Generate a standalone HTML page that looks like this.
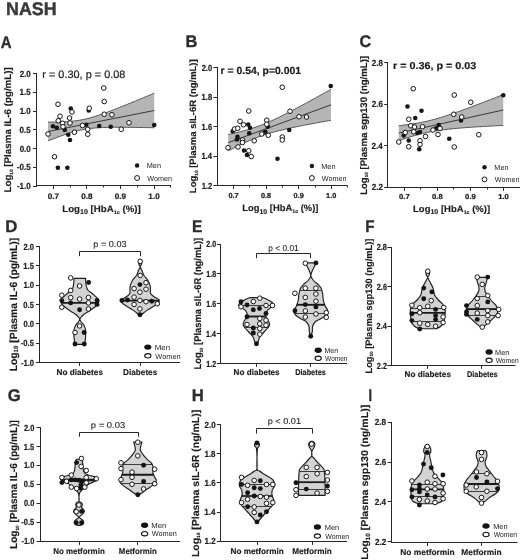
<!DOCTYPE html>
<html><head><meta charset="utf-8"><title>NASH</title>
<style>html,body{margin:0;padding:0;background:#fff;}svg{display:block;}text{font-family:"Liberation Sans",Arial,sans-serif;text-rendering:geometricPrecision;}</style>
</head><body>
<svg width="520" height="560" viewBox="0 0 520 560" font-family="Liberation Sans, Arial, sans-serif">
<rect width="520" height="560" fill="#fff"/>
<g>
<text transform="translate(6.07,15.30) scale(0.980,1)" font-size="18.2" font-weight="bold" fill="#3a3a3a" stroke="#3a3a3a" stroke-width="0.45" stroke-linejoin="round">NASH</text>
<text transform="translate(0.80,47.70) scale(0.893,1)" font-size="16.8" font-weight="bold" fill="#2c2c2c" stroke="#2c2c2c" stroke-width="0.35" stroke-linejoin="round">A</text>
<text transform="translate(185.60,47.40) scale(0.981,1)" font-size="16.8" font-weight="bold" fill="#2c2c2c" stroke="#2c2c2c" stroke-width="0.35" stroke-linejoin="round">B</text>
<text transform="translate(359.43,47.40) scale(0.959,1)" font-size="16.8" font-weight="bold" fill="#2c2c2c" stroke="#2c2c2c" stroke-width="0.35" stroke-linejoin="round">C</text>
<text transform="translate(5.28,231.70)" font-size="16.8" font-weight="bold" fill="#2c2c2c" stroke="#2c2c2c" stroke-width="0.35" stroke-linejoin="round">D</text>
<text transform="translate(191.97,231.70) scale(0.922,1)" font-size="16.8" font-weight="bold" fill="#2c2c2c" stroke="#2c2c2c" stroke-width="0.35" stroke-linejoin="round">E</text>
<text transform="translate(365.19,231.70) scale(0.905,1)" font-size="16.8" font-weight="bold" fill="#2c2c2c" stroke="#2c2c2c" stroke-width="0.35" stroke-linejoin="round">F</text>
<text transform="translate(7.71,401.10) scale(0.992,1)" font-size="16.8" font-weight="bold" fill="#2c2c2c" stroke="#2c2c2c" stroke-width="0.35" stroke-linejoin="round">G</text>
<text transform="translate(191.79,401.10) scale(0.994,1)" font-size="16.8" font-weight="bold" fill="#2c2c2c" stroke="#2c2c2c" stroke-width="0.35" stroke-linejoin="round">H</text>
<text transform="translate(368.45,401.10) scale(0.759,1)" font-size="16.8" font-weight="bold" fill="#2c2c2c" stroke="#2c2c2c" stroke-width="0.35" stroke-linejoin="round">I</text>
<line x1="36.50" y1="73.00" x2="36.50" y2="187.00" stroke="#262626" stroke-width="1.0"/>
<line x1="33.00" y1="73.50" x2="36.50" y2="73.50" stroke="#262626" stroke-width="1.0"/>
<text transform="translate(19.63,76.70) scale(0.906,1)" font-size="8.8" font-weight="bold" fill="#1c1c1c" stroke="#1c1c1c" stroke-width="0.22" stroke-linejoin="round">2.0</text>
<line x1="33.00" y1="92.50" x2="36.50" y2="92.50" stroke="#262626" stroke-width="1.0"/>
<text transform="translate(19.51,95.45) scale(0.905,1)" font-size="8.8" font-weight="bold" fill="#1c1c1c" stroke="#1c1c1c" stroke-width="0.22" stroke-linejoin="round">1.5</text>
<line x1="33.00" y1="111.50" x2="36.50" y2="111.50" stroke="#262626" stroke-width="1.0"/>
<text transform="translate(19.64,114.20) scale(0.905,1)" font-size="8.8" font-weight="bold" fill="#1c1c1c" stroke="#1c1c1c" stroke-width="0.22" stroke-linejoin="round">1.0</text>
<line x1="33.00" y1="129.50" x2="36.50" y2="129.50" stroke="#262626" stroke-width="1.0"/>
<text transform="translate(19.51,132.95) scale(0.906,1)" font-size="8.8" font-weight="bold" fill="#1c1c1c" stroke="#1c1c1c" stroke-width="0.22" stroke-linejoin="round">0.5</text>
<line x1="33.00" y1="148.50" x2="36.50" y2="148.50" stroke="#262626" stroke-width="1.0"/>
<text transform="translate(19.63,151.70) scale(0.906,1)" font-size="8.8" font-weight="bold" fill="#1c1c1c" stroke="#1c1c1c" stroke-width="0.22" stroke-linejoin="round">0.0</text>
<line x1="33.00" y1="167.50" x2="36.50" y2="167.50" stroke="#262626" stroke-width="1.0"/>
<text transform="translate(16.82,170.45) scale(0.910,1)" font-size="8.8" font-weight="bold" fill="#1c1c1c" stroke="#1c1c1c" stroke-width="0.22" stroke-linejoin="round">-0.5</text>
<line x1="33.00" y1="186.50" x2="36.50" y2="186.50" stroke="#262626" stroke-width="1.0"/>
<text transform="translate(16.95,189.20) scale(0.909,1)" font-size="8.8" font-weight="bold" fill="#1c1c1c" stroke="#1c1c1c" stroke-width="0.22" stroke-linejoin="round">-1.0</text>
<line x1="36.00" y1="185.50" x2="171.00" y2="185.50" stroke="#262626" stroke-width="1.0"/>
<line x1="53.50" y1="185.50" x2="53.50" y2="188.90" stroke="#262626" stroke-width="1.0"/>
<line x1="86.50" y1="185.50" x2="86.50" y2="188.90" stroke="#262626" stroke-width="1.0"/>
<line x1="120.50" y1="185.50" x2="120.50" y2="188.90" stroke="#262626" stroke-width="1.0"/>
<line x1="154.50" y1="185.50" x2="154.50" y2="188.90" stroke="#262626" stroke-width="1.0"/>
<line x1="70.50" y1="185.50" x2="70.50" y2="187.50" stroke="#262626" stroke-width="1.0"/>
<line x1="103.50" y1="185.50" x2="103.50" y2="187.50" stroke="#262626" stroke-width="1.0"/>
<line x1="137.50" y1="185.50" x2="137.50" y2="187.50" stroke="#262626" stroke-width="1.0"/>
<line x1="170.50" y1="185.50" x2="170.50" y2="187.50" stroke="#262626" stroke-width="1.0"/>
<text transform="translate(47.69,198.60) scale(1.013,1)" font-size="8.0" font-weight="bold" fill="#1c1c1c" stroke="#1c1c1c" stroke-width="0.22" stroke-linejoin="round">0.7</text>
<text transform="translate(81.22,198.60) scale(1.014,1)" font-size="8.0" font-weight="bold" fill="#1c1c1c" stroke="#1c1c1c" stroke-width="0.22" stroke-linejoin="round">0.8</text>
<text transform="translate(114.84,198.60) scale(1.014,1)" font-size="8.0" font-weight="bold" fill="#1c1c1c" stroke="#1c1c1c" stroke-width="0.22" stroke-linejoin="round">0.9</text>
<text transform="translate(148.37,198.60) scale(1.013,1)" font-size="8.0" font-weight="bold" fill="#1c1c1c" stroke="#1c1c1c" stroke-width="0.22" stroke-linejoin="round">1.0</text>
<text transform="translate(42.29,78.30) scale(1.010,1)" font-size="10.8" font-weight="normal" fill="#222" stroke="#222" stroke-width="0.20" stroke-linejoin="round">r = 0.30, p = 0.08</text>
<text transform="translate(11.30,192.56) rotate(-90) scale(1.020,1)" fill="#1c1c1c" stroke="#1c1c1c" stroke-width="0.15" stroke-linejoin="round"><tspan x="0.00" y="0.00" font-size="9.6" font-weight="bold">Log</tspan><tspan x="17.59" y="1.40" font-size="4.6" font-weight="bold">10</tspan><tspan x="22.71" y="0.00" font-size="9.6" font-weight="bold"> [Plasma IL-6 (pg/mL)]</tspan></text>
<text transform="translate(62.25,211.50) scale(1.029,1)" fill="#1c1c1c" stroke="#1c1c1c" stroke-width="0.15" stroke-linejoin="round"><tspan x="0.00" y="0.00" font-size="9.4" font-weight="bold">Log</tspan><tspan x="17.23" y="2.60" font-size="6.956" font-weight="bold">10</tspan><tspan x="24.96" y="0.00" font-size="9.4" font-weight="bold"> [HbA</tspan><tspan x="50.02" y="2.00" font-size="5.264000000000001" font-weight="bold">1c</tspan><tspan x="55.88" y="0.00" font-size="9.4" font-weight="bold"> (%)]</tspan></text>
<path d="M48.00,122.14 L50.66,122.12 L53.31,122.09 L55.97,122.05 L58.62,121.98 L61.28,121.89 L63.94,121.78 L66.59,121.63 L69.25,121.44 L71.91,121.21 L74.56,120.92 L77.22,120.57 L79.88,120.15 L82.53,119.65 L85.19,119.09 L87.84,118.45 L90.50,117.75 L93.16,116.98 L95.81,116.16 L98.47,115.29 L101.12,114.39 L103.78,113.45 L106.44,112.49 L109.09,111.50 L111.75,110.49 L114.41,109.47 L117.06,108.44 L119.72,107.39 L122.38,106.33 L125.03,105.27 L127.69,104.20 L130.34,103.12 L133.00,102.04 L135.66,100.95 L138.31,99.86 L140.97,98.76 L143.62,97.66 L146.28,96.56 L148.94,95.46 L151.59,94.35 L154.25,93.24 L154.25,127.76 L151.59,127.70 L148.94,127.64 L146.28,127.59 L143.62,127.54 L140.97,127.49 L138.31,127.44 L135.66,127.40 L133.00,127.36 L130.34,127.33 L127.69,127.30 L125.03,127.28 L122.38,127.27 L119.72,127.26 L117.06,127.26 L114.41,127.28 L111.75,127.31 L109.09,127.35 L106.44,127.41 L103.78,127.50 L101.12,127.61 L98.47,127.76 L95.81,127.94 L93.16,128.17 L90.50,128.45 L87.84,128.80 L85.19,129.21 L82.53,129.70 L79.88,130.25 L77.22,130.88 L74.56,131.58 L71.91,132.34 L69.25,133.16 L66.59,134.02 L63.94,134.92 L61.28,135.86 L58.62,136.82 L55.97,137.80 L53.31,138.81 L50.66,139.83 L48.00,140.86 Z" fill="#b5b5b5" stroke="none"/>
<path d="M48.00,122.14 L50.66,122.12 L53.31,122.09 L55.97,122.05 L58.62,121.98 L61.28,121.89 L63.94,121.78 L66.59,121.63 L69.25,121.44 L71.91,121.21 L74.56,120.92 L77.22,120.57 L79.88,120.15 L82.53,119.65 L85.19,119.09 L87.84,118.45 L90.50,117.75 L93.16,116.98 L95.81,116.16 L98.47,115.29 L101.12,114.39 L103.78,113.45 L106.44,112.49 L109.09,111.50 L111.75,110.49 L114.41,109.47 L117.06,108.44 L119.72,107.39 L122.38,106.33 L125.03,105.27 L127.69,104.20 L130.34,103.12 L133.00,102.04 L135.66,100.95 L138.31,99.86 L140.97,98.76 L143.62,97.66 L146.28,96.56 L148.94,95.46 L151.59,94.35 L154.25,93.24" fill="none" stroke="#4a4a4a" stroke-width="0.9"/>
<path d="M48.00,140.86 L50.66,139.83 L53.31,138.81 L55.97,137.80 L58.62,136.82 L61.28,135.86 L63.94,134.92 L66.59,134.02 L69.25,133.16 L71.91,132.34 L74.56,131.58 L77.22,130.88 L79.88,130.25 L82.53,129.70 L85.19,129.21 L87.84,128.80 L90.50,128.45 L93.16,128.17 L95.81,127.94 L98.47,127.76 L101.12,127.61 L103.78,127.50 L106.44,127.41 L109.09,127.35 L111.75,127.31 L114.41,127.28 L117.06,127.26 L119.72,127.26 L122.38,127.27 L125.03,127.28 L127.69,127.30 L130.34,127.33 L133.00,127.36 L135.66,127.40 L138.31,127.44 L140.97,127.49 L143.62,127.54 L146.28,127.59 L148.94,127.64 L151.59,127.70 L154.25,127.76" fill="none" stroke="#4a4a4a" stroke-width="0.9"/>
<line x1="48.00" y1="131.50" x2="154.25" y2="110.50" stroke="#3a3a3a" stroke-width="1.0"/>
<circle cx="70.75" cy="108.50" r="2.3" fill="#141414"/>
<circle cx="88.75" cy="110.50" r="2.3" fill="#141414"/>
<circle cx="53.00" cy="126.25" r="2.3" fill="#141414"/>
<circle cx="56.75" cy="127.75" r="2.3" fill="#141414"/>
<circle cx="64.75" cy="130.00" r="2.3" fill="#141414"/>
<circle cx="86.25" cy="124.75" r="2.3" fill="#141414"/>
<circle cx="99.25" cy="126.00" r="2.3" fill="#141414"/>
<circle cx="110.75" cy="126.75" r="2.3" fill="#141414"/>
<circle cx="154.25" cy="125.00" r="2.3" fill="#141414"/>
<circle cx="68.25" cy="134.75" r="2.3" fill="#141414"/>
<circle cx="70.00" cy="140.00" r="2.3" fill="#141414"/>
<circle cx="57.90" cy="167.70" r="2.3" fill="#141414"/>
<circle cx="67.40" cy="167.70" r="2.3" fill="#141414"/>
<circle cx="103.75" cy="88.00" r="2.3" fill="#fff" stroke="#141414" stroke-width="1.0"/>
<circle cx="104.25" cy="101.50" r="2.3" fill="#fff" stroke="#141414" stroke-width="1.0"/>
<circle cx="58.00" cy="104.25" r="2.3" fill="#fff" stroke="#141414" stroke-width="1.0"/>
<circle cx="89.25" cy="108.25" r="2.3" fill="#fff" stroke="#141414" stroke-width="1.0"/>
<circle cx="72.00" cy="112.00" r="2.3" fill="#fff" stroke="#141414" stroke-width="1.0"/>
<circle cx="60.00" cy="116.25" r="2.3" fill="#fff" stroke="#141414" stroke-width="1.0"/>
<circle cx="69.50" cy="118.00" r="2.3" fill="#fff" stroke="#141414" stroke-width="1.0"/>
<circle cx="104.25" cy="114.25" r="2.3" fill="#fff" stroke="#141414" stroke-width="1.0"/>
<circle cx="112.00" cy="114.75" r="2.3" fill="#fff" stroke="#141414" stroke-width="1.0"/>
<circle cx="58.25" cy="120.75" r="2.3" fill="#fff" stroke="#141414" stroke-width="1.0"/>
<circle cx="62.50" cy="123.25" r="2.3" fill="#fff" stroke="#141414" stroke-width="1.0"/>
<circle cx="70.00" cy="123.00" r="2.3" fill="#fff" stroke="#141414" stroke-width="1.0"/>
<circle cx="63.00" cy="126.75" r="2.3" fill="#fff" stroke="#141414" stroke-width="1.0"/>
<circle cx="82.50" cy="125.50" r="2.3" fill="#fff" stroke="#141414" stroke-width="1.0"/>
<circle cx="48.00" cy="134.00" r="2.3" fill="#fff" stroke="#141414" stroke-width="1.0"/>
<circle cx="74.50" cy="132.25" r="2.3" fill="#fff" stroke="#141414" stroke-width="1.0"/>
<circle cx="87.75" cy="129.25" r="2.3" fill="#fff" stroke="#141414" stroke-width="1.0"/>
<circle cx="87.75" cy="134.25" r="2.3" fill="#fff" stroke="#141414" stroke-width="1.0"/>
<circle cx="121.25" cy="129.25" r="2.3" fill="#fff" stroke="#141414" stroke-width="1.0"/>
<circle cx="129.00" cy="122.75" r="2.3" fill="#fff" stroke="#141414" stroke-width="1.0"/>
<circle cx="54.50" cy="156.75" r="2.3" fill="#fff" stroke="#141414" stroke-width="1.0"/>
<circle cx="137.10" cy="165.50" r="2.2" fill="#141414"/>
<circle cx="137.10" cy="178.00" r="2.45" fill="#fff" stroke="#141414" stroke-width="1.0"/>
<text transform="translate(146.71,168.20) scale(0.991,1)" font-size="7.4" font-weight="normal" fill="#222">Men</text>
<text transform="translate(147.26,180.70) scale(0.975,1)" font-size="7.4" font-weight="normal" fill="#222">Women</text>
<line x1="217.50" y1="67.00" x2="217.50" y2="186.00" stroke="#262626" stroke-width="1.0"/>
<line x1="213.40" y1="67.50" x2="217.50" y2="67.50" stroke="#262626" stroke-width="1.0"/>
<text transform="translate(201.64,71.02) scale(0.862,1)" font-size="8.8" font-weight="bold" fill="#1c1c1c" stroke="#1c1c1c" stroke-width="0.22" stroke-linejoin="round">2.0</text>
<line x1="213.40" y1="97.50" x2="217.50" y2="97.50" stroke="#262626" stroke-width="1.0"/>
<text transform="translate(201.57,100.44) scale(0.862,1)" font-size="8.8" font-weight="bold" fill="#1c1c1c" stroke="#1c1c1c" stroke-width="0.22" stroke-linejoin="round">1.8</text>
<line x1="213.40" y1="126.50" x2="217.50" y2="126.50" stroke="#262626" stroke-width="1.0"/>
<text transform="translate(201.61,129.86) scale(0.862,1)" font-size="8.8" font-weight="bold" fill="#1c1c1c" stroke="#1c1c1c" stroke-width="0.22" stroke-linejoin="round">1.6</text>
<line x1="213.40" y1="156.50" x2="217.50" y2="156.50" stroke="#262626" stroke-width="1.0"/>
<text transform="translate(201.38,159.28) scale(0.862,1)" font-size="8.8" font-weight="bold" fill="#1c1c1c" stroke="#1c1c1c" stroke-width="0.22" stroke-linejoin="round">1.4</text>
<line x1="213.40" y1="185.50" x2="217.50" y2="185.50" stroke="#262626" stroke-width="1.0"/>
<text transform="translate(201.65,188.70) scale(0.862,1)" font-size="8.8" font-weight="bold" fill="#1c1c1c" stroke="#1c1c1c" stroke-width="0.22" stroke-linejoin="round">1.2</text>
<line x1="217.00" y1="185.50" x2="347.60" y2="185.50" stroke="#262626" stroke-width="1.0"/>
<line x1="233.50" y1="185.50" x2="233.50" y2="188.90" stroke="#262626" stroke-width="1.0"/>
<line x1="266.50" y1="185.50" x2="266.50" y2="188.90" stroke="#262626" stroke-width="1.0"/>
<line x1="298.50" y1="185.50" x2="298.50" y2="188.90" stroke="#262626" stroke-width="1.0"/>
<line x1="331.50" y1="185.50" x2="331.50" y2="188.90" stroke="#262626" stroke-width="1.0"/>
<line x1="249.50" y1="185.50" x2="249.50" y2="187.50" stroke="#262626" stroke-width="1.0"/>
<line x1="282.50" y1="185.50" x2="282.50" y2="187.50" stroke="#262626" stroke-width="1.0"/>
<line x1="315.50" y1="185.50" x2="315.50" y2="187.50" stroke="#262626" stroke-width="1.0"/>
<line x1="347.50" y1="185.50" x2="347.50" y2="187.50" stroke="#262626" stroke-width="1.0"/>
<text transform="translate(228.42,197.60) scale(1.020,1)" font-size="7.2" font-weight="bold" fill="#1c1c1c" stroke="#1c1c1c" stroke-width="0.22" stroke-linejoin="round">0.7</text>
<text transform="translate(260.96,197.60) scale(1.020,1)" font-size="7.2" font-weight="bold" fill="#1c1c1c" stroke="#1c1c1c" stroke-width="0.22" stroke-linejoin="round">0.8</text>
<text transform="translate(293.58,197.60) scale(1.020,1)" font-size="7.2" font-weight="bold" fill="#1c1c1c" stroke="#1c1c1c" stroke-width="0.22" stroke-linejoin="round">0.9</text>
<text transform="translate(326.11,197.60) scale(1.019,1)" font-size="7.2" font-weight="bold" fill="#1c1c1c" stroke="#1c1c1c" stroke-width="0.22" stroke-linejoin="round">1.0</text>
<text transform="translate(220.62,73.90) scale(1.012,1)" font-size="10.3" font-weight="bold" fill="#1c1c1c" stroke="#1c1c1c" stroke-width="0.20" stroke-linejoin="round">r = 0.54, p=0.001</text>
<text transform="translate(196.20,193.14) rotate(-90) scale(1.032,1)" fill="#1c1c1c" stroke="#1c1c1c" stroke-width="0.15" stroke-linejoin="round"><tspan x="0.00" y="0.00" font-size="9.2" font-weight="bold">Log</tspan><tspan x="16.86" y="1.40" font-size="4.6" font-weight="bold">10</tspan><tspan x="21.98" y="0.00" font-size="9.2" font-weight="bold"> [Plasma sIL-6R (ng/mL)]</tspan></text>
<text transform="translate(242.26,211.00)" fill="#1c1c1c" stroke="#1c1c1c" stroke-width="0.15" stroke-linejoin="round"><tspan x="0.00" y="0.00" font-size="9.4" font-weight="bold">Log</tspan><tspan x="17.23" y="2.60" font-size="6.956" font-weight="bold">10</tspan><tspan x="24.96" y="0.00" font-size="9.4" font-weight="bold"> [HbA</tspan><tspan x="50.02" y="2.00" font-size="5.264000000000001" font-weight="bold">1c</tspan><tspan x="55.88" y="0.00" font-size="9.4" font-weight="bold"> (%)]</tspan></text>
<path d="M228.20,134.49 L230.77,133.92 L233.34,133.34 L235.91,132.74 L238.48,132.12 L241.05,131.48 L243.62,130.80 L246.19,130.10 L248.76,129.35 L251.33,128.57 L253.90,127.74 L256.47,126.87 L259.04,125.94 L261.61,124.97 L264.18,123.95 L266.75,122.88 L269.32,121.77 L271.89,120.62 L274.46,119.43 L277.03,118.20 L279.60,116.95 L282.17,115.68 L284.74,114.38 L287.31,113.07 L289.88,111.74 L292.45,110.39 L295.02,109.03 L297.59,107.67 L300.16,106.29 L302.73,104.91 L305.30,103.51 L307.87,102.11 L310.44,100.71 L313.01,99.30 L315.58,97.89 L318.15,96.47 L320.72,95.05 L323.29,93.63 L325.86,92.20 L328.43,90.77 L331.00,89.34 L331.00,120.26 L328.43,120.72 L325.86,121.19 L323.29,121.66 L320.72,122.13 L318.15,122.60 L315.58,123.08 L313.01,123.56 L310.44,124.05 L307.87,124.54 L305.30,125.04 L302.73,125.54 L300.16,126.05 L297.59,126.57 L295.02,127.10 L292.45,127.63 L289.88,128.18 L287.31,128.75 L284.74,129.33 L282.17,129.93 L279.60,130.55 L277.03,131.19 L274.46,131.86 L271.89,132.57 L269.32,133.31 L266.75,134.09 L264.18,134.92 L261.61,135.79 L259.04,136.72 L256.47,137.69 L253.90,138.71 L251.33,139.77 L248.76,140.89 L246.19,142.04 L243.62,143.23 L241.05,144.45 L238.48,145.70 L235.91,146.97 L233.34,148.27 L230.77,149.58 L228.20,150.91 Z" fill="#b5b5b5" stroke="none"/>
<path d="M228.20,134.49 L230.77,133.92 L233.34,133.34 L235.91,132.74 L238.48,132.12 L241.05,131.48 L243.62,130.80 L246.19,130.10 L248.76,129.35 L251.33,128.57 L253.90,127.74 L256.47,126.87 L259.04,125.94 L261.61,124.97 L264.18,123.95 L266.75,122.88 L269.32,121.77 L271.89,120.62 L274.46,119.43 L277.03,118.20 L279.60,116.95 L282.17,115.68 L284.74,114.38 L287.31,113.07 L289.88,111.74 L292.45,110.39 L295.02,109.03 L297.59,107.67 L300.16,106.29 L302.73,104.91 L305.30,103.51 L307.87,102.11 L310.44,100.71 L313.01,99.30 L315.58,97.89 L318.15,96.47 L320.72,95.05 L323.29,93.63 L325.86,92.20 L328.43,90.77 L331.00,89.34" fill="none" stroke="#4a4a4a" stroke-width="0.9"/>
<path d="M228.20,150.91 L230.77,149.58 L233.34,148.27 L235.91,146.97 L238.48,145.70 L241.05,144.45 L243.62,143.23 L246.19,142.04 L248.76,140.89 L251.33,139.77 L253.90,138.71 L256.47,137.69 L259.04,136.72 L261.61,135.79 L264.18,134.92 L266.75,134.09 L269.32,133.31 L271.89,132.57 L274.46,131.86 L277.03,131.19 L279.60,130.55 L282.17,129.93 L284.74,129.33 L287.31,128.75 L289.88,128.18 L292.45,127.63 L295.02,127.10 L297.59,126.57 L300.16,126.05 L302.73,125.54 L305.30,125.04 L307.87,124.54 L310.44,124.05 L313.01,123.56 L315.58,123.08 L318.15,122.60 L320.72,122.13 L323.29,121.66 L325.86,121.19 L328.43,120.72 L331.00,120.26" fill="none" stroke="#4a4a4a" stroke-width="0.9"/>
<line x1="228.20" y1="142.70" x2="331.00" y2="104.80" stroke="#3a3a3a" stroke-width="1.0"/>
<circle cx="330.75" cy="86.00" r="2.3" fill="#141414"/>
<circle cx="248.25" cy="124.50" r="2.3" fill="#141414"/>
<circle cx="250.00" cy="127.75" r="2.3" fill="#141414"/>
<circle cx="232.75" cy="131.25" r="2.3" fill="#141414"/>
<circle cx="249.25" cy="133.25" r="2.3" fill="#141414"/>
<circle cx="267.75" cy="126.75" r="2.3" fill="#141414"/>
<circle cx="265.25" cy="131.75" r="2.3" fill="#141414"/>
<circle cx="289.25" cy="130.00" r="2.3" fill="#141414"/>
<circle cx="237.50" cy="136.75" r="2.3" fill="#141414"/>
<circle cx="237.00" cy="139.50" r="2.3" fill="#141414"/>
<circle cx="244.00" cy="150.50" r="2.3" fill="#141414"/>
<circle cx="247.00" cy="155.00" r="2.3" fill="#141414"/>
<circle cx="277.50" cy="158.75" r="2.3" fill="#141414"/>
<circle cx="282.25" cy="87.25" r="2.3" fill="#fff" stroke="#141414" stroke-width="1.0"/>
<circle cx="248.75" cy="111.00" r="2.3" fill="#fff" stroke="#141414" stroke-width="1.0"/>
<circle cx="290.00" cy="111.25" r="2.3" fill="#fff" stroke="#141414" stroke-width="1.0"/>
<circle cx="299.00" cy="116.75" r="2.3" fill="#fff" stroke="#141414" stroke-width="1.0"/>
<circle cx="306.50" cy="117.00" r="2.3" fill="#fff" stroke="#141414" stroke-width="1.0"/>
<circle cx="240.00" cy="121.25" r="2.3" fill="#fff" stroke="#141414" stroke-width="1.0"/>
<circle cx="243.50" cy="124.75" r="2.3" fill="#fff" stroke="#141414" stroke-width="1.0"/>
<circle cx="266.75" cy="120.25" r="2.3" fill="#fff" stroke="#141414" stroke-width="1.0"/>
<circle cx="266.75" cy="124.25" r="2.3" fill="#fff" stroke="#141414" stroke-width="1.0"/>
<circle cx="234.50" cy="129.00" r="2.3" fill="#fff" stroke="#141414" stroke-width="1.0"/>
<circle cx="237.75" cy="128.25" r="2.3" fill="#fff" stroke="#141414" stroke-width="1.0"/>
<circle cx="261.75" cy="134.00" r="2.3" fill="#fff" stroke="#141414" stroke-width="1.0"/>
<circle cx="268.25" cy="135.25" r="2.3" fill="#fff" stroke="#141414" stroke-width="1.0"/>
<circle cx="282.25" cy="137.00" r="2.3" fill="#fff" stroke="#141414" stroke-width="1.0"/>
<circle cx="282.25" cy="140.00" r="2.3" fill="#fff" stroke="#141414" stroke-width="1.0"/>
<circle cx="242.50" cy="140.00" r="2.3" fill="#fff" stroke="#141414" stroke-width="1.0"/>
<circle cx="242.50" cy="142.50" r="2.3" fill="#fff" stroke="#141414" stroke-width="1.0"/>
<circle cx="254.25" cy="140.75" r="2.3" fill="#fff" stroke="#141414" stroke-width="1.0"/>
<circle cx="238.00" cy="147.00" r="2.3" fill="#fff" stroke="#141414" stroke-width="1.0"/>
<circle cx="228.00" cy="147.75" r="2.3" fill="#fff" stroke="#141414" stroke-width="1.0"/>
<circle cx="248.75" cy="150.75" r="2.3" fill="#fff" stroke="#141414" stroke-width="1.0"/>
<circle cx="251.25" cy="156.50" r="2.3" fill="#fff" stroke="#141414" stroke-width="1.0"/>
<circle cx="311.90" cy="166.00" r="2.2" fill="#141414"/>
<circle cx="311.90" cy="178.00" r="2.45" fill="#fff" stroke="#141414" stroke-width="1.0"/>
<text transform="translate(321.21,168.70) scale(0.991,1)" font-size="7.4" font-weight="normal" fill="#222">Men</text>
<text transform="translate(321.76,180.70) scale(0.975,1)" font-size="7.4" font-weight="normal" fill="#222">Women</text>
<line x1="387.50" y1="62.00" x2="387.50" y2="188.00" stroke="#262626" stroke-width="1.0"/>
<line x1="384.20" y1="62.50" x2="387.50" y2="62.50" stroke="#262626" stroke-width="1.0"/>
<text transform="translate(371.75,66.02) scale(0.914,1)" font-size="8.8" font-weight="bold" fill="#1c1c1c" stroke="#1c1c1c" stroke-width="0.22" stroke-linejoin="round">2.8</text>
<line x1="384.20" y1="104.50" x2="387.50" y2="104.50" stroke="#262626" stroke-width="1.0"/>
<text transform="translate(371.79,107.48) scale(0.914,1)" font-size="8.8" font-weight="bold" fill="#1c1c1c" stroke="#1c1c1c" stroke-width="0.22" stroke-linejoin="round">2.6</text>
<line x1="384.20" y1="145.50" x2="387.50" y2="145.50" stroke="#262626" stroke-width="1.0"/>
<text transform="translate(371.54,148.94) scale(0.915,1)" font-size="8.8" font-weight="bold" fill="#1c1c1c" stroke="#1c1c1c" stroke-width="0.22" stroke-linejoin="round">2.4</text>
<line x1="384.20" y1="187.50" x2="387.50" y2="187.50" stroke="#262626" stroke-width="1.0"/>
<text transform="translate(371.83,190.40) scale(0.914,1)" font-size="8.8" font-weight="bold" fill="#1c1c1c" stroke="#1c1c1c" stroke-width="0.22" stroke-linejoin="round">2.2</text>
<line x1="387.00" y1="187.50" x2="520.00" y2="187.50" stroke="#262626" stroke-width="1.0"/>
<line x1="404.50" y1="187.50" x2="404.50" y2="190.90" stroke="#262626" stroke-width="1.0"/>
<line x1="437.50" y1="187.50" x2="437.50" y2="190.90" stroke="#262626" stroke-width="1.0"/>
<line x1="470.50" y1="187.50" x2="470.50" y2="190.90" stroke="#262626" stroke-width="1.0"/>
<line x1="503.50" y1="187.50" x2="503.50" y2="190.90" stroke="#262626" stroke-width="1.0"/>
<line x1="420.50" y1="187.50" x2="420.50" y2="189.50" stroke="#262626" stroke-width="1.0"/>
<line x1="453.50" y1="187.50" x2="453.50" y2="189.50" stroke="#262626" stroke-width="1.0"/>
<line x1="487.50" y1="187.50" x2="487.50" y2="189.50" stroke="#262626" stroke-width="1.0"/>
<text transform="translate(398.95,199.40) scale(1.073,1)" font-size="7.2" font-weight="bold" fill="#1c1c1c" stroke="#1c1c1c" stroke-width="0.22" stroke-linejoin="round">0.7</text>
<text transform="translate(431.99,199.40) scale(1.073,1)" font-size="7.2" font-weight="bold" fill="#1c1c1c" stroke="#1c1c1c" stroke-width="0.22" stroke-linejoin="round">0.8</text>
<text transform="translate(465.11,199.40) scale(1.073,1)" font-size="7.2" font-weight="bold" fill="#1c1c1c" stroke="#1c1c1c" stroke-width="0.22" stroke-linejoin="round">0.9</text>
<text transform="translate(498.14,199.40) scale(1.072,1)" font-size="7.2" font-weight="bold" fill="#1c1c1c" stroke="#1c1c1c" stroke-width="0.22" stroke-linejoin="round">1.0</text>
<text transform="translate(393.00,68.80) scale(1.078,1)" font-size="10.0" font-weight="bold" fill="#1c1c1c" stroke="#1c1c1c" stroke-width="0.20" stroke-linejoin="round">r = 0.36, p = 0.03</text>
<text transform="translate(366.50,194.85) rotate(-90)" fill="#1c1c1c" stroke="#1c1c1c" stroke-width="0.15" stroke-linejoin="round"><tspan x="0.00" y="0.00" font-size="9.6" font-weight="bold">Log</tspan><tspan x="17.59" y="1.40" font-size="4.6" font-weight="bold">10</tspan><tspan x="22.71" y="0.00" font-size="9.6" font-weight="bold"> [Plasma sgp130 (ng/mL)]</tspan></text>
<text transform="translate(413.06,211.60) scale(1.011,1)" fill="#1c1c1c" stroke="#1c1c1c" stroke-width="0.15" stroke-linejoin="round"><tspan x="0.00" y="0.00" font-size="9.4" font-weight="bold">Log</tspan><tspan x="17.23" y="2.60" font-size="6.956" font-weight="bold">10</tspan><tspan x="24.96" y="0.00" font-size="9.4" font-weight="bold"> [HbA</tspan><tspan x="50.02" y="2.00" font-size="5.264000000000001" font-weight="bold">1c</tspan><tspan x="55.88" y="0.00" font-size="9.4" font-weight="bold"> (%)]</tspan></text>
<path d="M398.80,125.65 L401.41,125.38 L404.02,125.08 L406.63,124.76 L409.25,124.42 L411.86,124.05 L414.47,123.64 L417.08,123.21 L419.69,122.73 L422.30,122.22 L424.91,121.67 L427.52,121.07 L430.13,120.44 L432.75,119.77 L435.36,119.06 L437.97,118.31 L440.58,117.54 L443.19,116.73 L445.80,115.90 L448.41,115.05 L451.03,114.17 L453.64,113.28 L456.25,112.36 L458.86,111.44 L461.47,110.50 L464.08,109.56 L466.69,108.60 L469.30,107.63 L471.91,106.66 L474.53,105.68 L477.14,104.69 L479.75,103.70 L482.36,102.70 L484.97,101.70 L487.58,100.69 L490.19,99.68 L492.81,98.67 L495.42,97.66 L498.03,96.64 L500.64,95.62 L503.25,94.60 L503.25,125.40 L500.64,125.54 L498.03,125.67 L495.42,125.81 L492.81,125.95 L490.19,126.09 L487.58,126.24 L484.97,126.39 L482.36,126.54 L479.75,126.70 L477.14,126.86 L474.53,127.03 L471.91,127.20 L469.30,127.38 L466.69,127.57 L464.08,127.77 L461.47,127.98 L458.86,128.19 L456.25,128.43 L453.64,128.67 L451.03,128.93 L448.41,129.21 L445.80,129.51 L443.19,129.83 L440.58,130.18 L437.97,130.56 L435.36,130.97 L432.75,131.42 L430.13,131.90 L427.52,132.42 L424.91,132.98 L422.30,133.58 L419.69,134.23 L417.08,134.91 L414.47,135.63 L411.86,136.38 L409.25,137.16 L406.63,137.97 L404.02,138.81 L401.41,139.67 L398.80,140.55 Z" fill="#b5b5b5" stroke="none"/>
<path d="M398.80,125.65 L401.41,125.38 L404.02,125.08 L406.63,124.76 L409.25,124.42 L411.86,124.05 L414.47,123.64 L417.08,123.21 L419.69,122.73 L422.30,122.22 L424.91,121.67 L427.52,121.07 L430.13,120.44 L432.75,119.77 L435.36,119.06 L437.97,118.31 L440.58,117.54 L443.19,116.73 L445.80,115.90 L448.41,115.05 L451.03,114.17 L453.64,113.28 L456.25,112.36 L458.86,111.44 L461.47,110.50 L464.08,109.56 L466.69,108.60 L469.30,107.63 L471.91,106.66 L474.53,105.68 L477.14,104.69 L479.75,103.70 L482.36,102.70 L484.97,101.70 L487.58,100.69 L490.19,99.68 L492.81,98.67 L495.42,97.66 L498.03,96.64 L500.64,95.62 L503.25,94.60" fill="none" stroke="#4a4a4a" stroke-width="0.9"/>
<path d="M398.80,140.55 L401.41,139.67 L404.02,138.81 L406.63,137.97 L409.25,137.16 L411.86,136.38 L414.47,135.63 L417.08,134.91 L419.69,134.23 L422.30,133.58 L424.91,132.98 L427.52,132.42 L430.13,131.90 L432.75,131.42 L435.36,130.97 L437.97,130.56 L440.58,130.18 L443.19,129.83 L445.80,129.51 L448.41,129.21 L451.03,128.93 L453.64,128.67 L456.25,128.43 L458.86,128.19 L461.47,127.98 L464.08,127.77 L466.69,127.57 L469.30,127.38 L471.91,127.20 L474.53,127.03 L477.14,126.86 L479.75,126.70 L482.36,126.54 L484.97,126.39 L487.58,126.24 L490.19,126.09 L492.81,125.95 L495.42,125.81 L498.03,125.67 L500.64,125.54 L503.25,125.40" fill="none" stroke="#4a4a4a" stroke-width="0.9"/>
<line x1="398.80" y1="133.10" x2="503.25" y2="110.00" stroke="#3a3a3a" stroke-width="1.0"/>
<circle cx="503.25" cy="95.25" r="2.3" fill="#141414"/>
<circle cx="407.50" cy="106.50" r="2.3" fill="#141414"/>
<circle cx="421.50" cy="110.75" r="2.3" fill="#141414"/>
<circle cx="415.25" cy="118.00" r="2.3" fill="#141414"/>
<circle cx="461.00" cy="120.50" r="2.3" fill="#141414"/>
<circle cx="438.75" cy="125.00" r="2.3" fill="#141414"/>
<circle cx="436.25" cy="128.25" r="2.3" fill="#141414"/>
<circle cx="420.00" cy="132.00" r="2.3" fill="#141414"/>
<circle cx="417.50" cy="133.00" r="2.3" fill="#141414"/>
<circle cx="403.75" cy="135.50" r="2.3" fill="#141414"/>
<circle cx="408.75" cy="140.50" r="2.3" fill="#141414"/>
<circle cx="449.25" cy="138.75" r="2.3" fill="#141414"/>
<circle cx="419.25" cy="149.25" r="2.3" fill="#141414"/>
<circle cx="413.25" cy="88.75" r="2.3" fill="#fff" stroke="#141414" stroke-width="1.0"/>
<circle cx="454.25" cy="95.00" r="2.3" fill="#fff" stroke="#141414" stroke-width="1.0"/>
<circle cx="470.75" cy="102.25" r="2.3" fill="#fff" stroke="#141414" stroke-width="1.0"/>
<circle cx="453.75" cy="114.25" r="2.3" fill="#fff" stroke="#141414" stroke-width="1.0"/>
<circle cx="461.75" cy="117.00" r="2.3" fill="#fff" stroke="#141414" stroke-width="1.0"/>
<circle cx="408.75" cy="119.25" r="2.3" fill="#fff" stroke="#141414" stroke-width="1.0"/>
<circle cx="410.75" cy="125.75" r="2.3" fill="#fff" stroke="#141414" stroke-width="1.0"/>
<circle cx="414.50" cy="127.00" r="2.3" fill="#fff" stroke="#141414" stroke-width="1.0"/>
<circle cx="422.50" cy="126.75" r="2.3" fill="#fff" stroke="#141414" stroke-width="1.0"/>
<circle cx="405.25" cy="132.50" r="2.3" fill="#fff" stroke="#141414" stroke-width="1.0"/>
<circle cx="413.75" cy="131.75" r="2.3" fill="#fff" stroke="#141414" stroke-width="1.0"/>
<circle cx="433.00" cy="130.00" r="2.3" fill="#fff" stroke="#141414" stroke-width="1.0"/>
<circle cx="440.00" cy="128.50" r="2.3" fill="#fff" stroke="#141414" stroke-width="1.0"/>
<circle cx="438.00" cy="134.50" r="2.3" fill="#fff" stroke="#141414" stroke-width="1.0"/>
<circle cx="425.50" cy="136.50" r="2.3" fill="#fff" stroke="#141414" stroke-width="1.0"/>
<circle cx="398.75" cy="142.00" r="2.3" fill="#fff" stroke="#141414" stroke-width="1.0"/>
<circle cx="420.00" cy="140.75" r="2.3" fill="#fff" stroke="#141414" stroke-width="1.0"/>
<circle cx="420.00" cy="144.50" r="2.3" fill="#fff" stroke="#141414" stroke-width="1.0"/>
<circle cx="408.75" cy="146.75" r="2.3" fill="#fff" stroke="#141414" stroke-width="1.0"/>
<circle cx="454.25" cy="147.00" r="2.3" fill="#fff" stroke="#141414" stroke-width="1.0"/>
<circle cx="478.75" cy="134.75" r="2.3" fill="#fff" stroke="#141414" stroke-width="1.0"/>
<circle cx="484.50" cy="167.20" r="2.2" fill="#141414"/>
<circle cx="484.50" cy="179.40" r="2.45" fill="#fff" stroke="#141414" stroke-width="1.0"/>
<text transform="translate(494.31,169.90) scale(0.991,1)" font-size="7.4" font-weight="normal" fill="#222">Men</text>
<text transform="translate(494.86,182.10) scale(0.967,1)" font-size="7.4" font-weight="normal" fill="#222">Women</text>
<line x1="39.50" y1="246.00" x2="39.50" y2="363.00" stroke="#262626" stroke-width="1.0"/>
<line x1="35.90" y1="246.50" x2="39.50" y2="246.50" stroke="#262626" stroke-width="1.0"/>
<text transform="translate(23.44,249.75) scale(0.862,1)" font-size="8.8" font-weight="bold" fill="#1c1c1c" stroke="#1c1c1c" stroke-width="0.22" stroke-linejoin="round">2.0</text>
<line x1="35.90" y1="265.50" x2="39.50" y2="265.50" stroke="#262626" stroke-width="1.0"/>
<text transform="translate(23.33,269.08) scale(0.862,1)" font-size="8.8" font-weight="bold" fill="#1c1c1c" stroke="#1c1c1c" stroke-width="0.22" stroke-linejoin="round">1.5</text>
<line x1="35.90" y1="285.50" x2="39.50" y2="285.50" stroke="#262626" stroke-width="1.0"/>
<text transform="translate(23.45,288.40) scale(0.862,1)" font-size="8.8" font-weight="bold" fill="#1c1c1c" stroke="#1c1c1c" stroke-width="0.22" stroke-linejoin="round">1.0</text>
<line x1="35.90" y1="304.50" x2="39.50" y2="304.50" stroke="#262626" stroke-width="1.0"/>
<text transform="translate(23.33,307.73) scale(0.863,1)" font-size="8.8" font-weight="bold" fill="#1c1c1c" stroke="#1c1c1c" stroke-width="0.22" stroke-linejoin="round">0.5</text>
<line x1="35.90" y1="323.50" x2="39.50" y2="323.50" stroke="#262626" stroke-width="1.0"/>
<text transform="translate(23.45,327.05) scale(0.862,1)" font-size="8.8" font-weight="bold" fill="#1c1c1c" stroke="#1c1c1c" stroke-width="0.22" stroke-linejoin="round">0.0</text>
<line x1="35.90" y1="343.50" x2="39.50" y2="343.50" stroke="#262626" stroke-width="1.0"/>
<text transform="translate(20.77,346.38) scale(0.866,1)" font-size="8.8" font-weight="bold" fill="#1c1c1c" stroke="#1c1c1c" stroke-width="0.22" stroke-linejoin="round">-0.5</text>
<line x1="35.90" y1="362.50" x2="39.50" y2="362.50" stroke="#262626" stroke-width="1.0"/>
<text transform="translate(20.88,365.70) scale(0.866,1)" font-size="8.8" font-weight="bold" fill="#1c1c1c" stroke="#1c1c1c" stroke-width="0.22" stroke-linejoin="round">-1.0</text>
<line x1="39.00" y1="362.50" x2="180.00" y2="362.50" stroke="#262626" stroke-width="1.0"/>
<line x1="79.50" y1="362.50" x2="79.50" y2="365.90" stroke="#262626" stroke-width="1.0"/>
<line x1="140.50" y1="362.50" x2="140.50" y2="365.90" stroke="#262626" stroke-width="1.0"/>
<text transform="translate(56.55,375.20)" font-size="8.2" font-weight="bold" fill="#1c1c1c" stroke="#1c1c1c" stroke-width="0.15" stroke-linejoin="round">No diabetes</text>
<text transform="translate(123.10,375.20)" font-size="8.2" font-weight="bold" fill="#1c1c1c" stroke="#1c1c1c" stroke-width="0.15" stroke-linejoin="round">Diabetes</text>
<text transform="translate(16.50,371.30) rotate(-90) scale(0.993,1)" fill="#1c1c1c" stroke="#1c1c1c" stroke-width="0.15" stroke-linejoin="round"><tspan x="0.00" y="0.00" font-size="10.4" font-weight="bold">Log</tspan><tspan x="19.06" y="1.40" font-size="6.2" font-weight="bold">10</tspan><tspan x="25.96" y="0.00" font-size="10.4" font-weight="bold"> [Plasma IL-6 (pg/mL)]</tspan></text>
<path d="M79.50,256.20 L79.50,251.50 L140.50,251.50 L140.50,256.20" fill="none" stroke="#262626" stroke-width="1.0"/>
<text transform="translate(93.26,247.30) scale(1.064,1)" font-size="8.6" font-weight="normal" fill="#222" stroke="#222" stroke-width="0.10" stroke-linejoin="round">p = 0.03</text>
<path d="M74.10,278.30 L85.50,278.30 C85.60,279.42 85.72,283.05 86.10,285.00 C86.48,286.95 86.68,288.50 87.80,290.00 C88.92,291.50 91.22,292.67 92.80,294.00 C94.38,295.33 96.30,296.83 97.30,298.00 C98.30,299.17 98.72,300.00 98.80,301.00 C98.88,302.00 98.47,303.00 97.80,304.00 C97.13,305.00 96.22,305.83 94.80,307.00 C93.38,308.17 91.05,309.83 89.30,311.00 C87.55,312.17 85.63,313.00 84.30,314.00 C82.97,315.00 82.04,316.12 81.30,317.00 C80.56,317.88 79.88,318.47 79.88,319.30 C79.88,320.13 80.65,321.05 81.30,322.00 C81.95,322.95 83.08,323.67 83.80,325.00 C84.52,326.33 85.30,328.00 85.60,330.00 C85.90,332.00 85.73,334.83 85.60,337.00 C85.47,339.17 84.98,341.78 84.80,343.00 C84.62,344.22 84.55,344.08 84.50,344.30 L75.10,344.30 C75.05,344.08 74.98,344.22 74.80,343.00 C74.62,341.78 74.13,339.17 74.00,337.00 C73.87,334.83 73.70,332.00 74.00,330.00 C74.30,328.00 75.08,326.33 75.80,325.00 C76.52,323.67 77.65,322.95 78.30,322.00 C78.95,321.05 79.72,320.13 79.72,319.30 C79.72,318.47 79.04,317.88 78.30,317.00 C77.56,316.12 76.63,315.00 75.30,314.00 C73.97,313.00 72.05,312.17 70.30,311.00 C68.55,309.83 66.22,308.17 64.80,307.00 C63.38,305.83 62.47,305.00 61.80,304.00 C61.13,303.00 60.72,302.00 60.80,301.00 C60.88,300.00 61.30,299.17 62.30,298.00 C63.30,296.83 65.22,295.33 66.80,294.00 C68.38,292.67 70.68,291.50 71.80,290.00 C72.92,288.50 73.12,286.95 73.50,285.00 C73.88,283.05 74.00,279.42 74.10,278.30 Z" fill="#d3d3d3" stroke="#1e1e1e" stroke-width="1.15"/>
<line x1="61.43" y1="302.90" x2="98.17" y2="302.90" stroke="#1a1a1a" stroke-width="1.9"/>
<circle cx="88.60" cy="282.50" r="2.45" fill="#141414"/>
<circle cx="61.80" cy="300.60" r="2.45" fill="#141414"/>
<circle cx="70.70" cy="302.90" r="2.45" fill="#141414"/>
<circle cx="97.10" cy="300.40" r="2.45" fill="#141414"/>
<circle cx="97.10" cy="304.40" r="2.45" fill="#141414"/>
<circle cx="79.60" cy="309.80" r="2.45" fill="#141414"/>
<circle cx="84.10" cy="332.50" r="2.45" fill="#141414"/>
<circle cx="75.00" cy="344.00" r="2.45" fill="#141414"/>
<circle cx="84.30" cy="344.00" r="2.45" fill="#141414"/>
<circle cx="70.70" cy="277.90" r="2.3" fill="#fff" stroke="#141414" stroke-width="1.0"/>
<circle cx="79.60" cy="286.00" r="2.3" fill="#fff" stroke="#141414" stroke-width="1.0"/>
<circle cx="70.70" cy="290.40" r="2.3" fill="#fff" stroke="#141414" stroke-width="1.0"/>
<circle cx="61.80" cy="295.20" r="2.3" fill="#fff" stroke="#141414" stroke-width="1.0"/>
<circle cx="70.70" cy="297.60" r="2.3" fill="#fff" stroke="#141414" stroke-width="1.0"/>
<circle cx="79.60" cy="299.10" r="2.3" fill="#fff" stroke="#141414" stroke-width="1.0"/>
<circle cx="88.40" cy="297.60" r="2.3" fill="#fff" stroke="#141414" stroke-width="1.0"/>
<circle cx="88.40" cy="302.90" r="2.3" fill="#fff" stroke="#141414" stroke-width="1.0"/>
<circle cx="61.80" cy="307.20" r="2.3" fill="#fff" stroke="#141414" stroke-width="1.0"/>
<circle cx="88.40" cy="309.00" r="2.3" fill="#fff" stroke="#141414" stroke-width="1.0"/>
<circle cx="79.60" cy="325.90" r="2.3" fill="#fff" stroke="#141414" stroke-width="1.0"/>
<circle cx="75.00" cy="332.50" r="2.3" fill="#fff" stroke="#141414" stroke-width="1.0"/>
<path d="M140.12,259.50 L140.28,259.50 C140.53,259.83 141.61,260.67 141.80,261.50 C141.99,262.33 141.65,263.58 141.40,264.50 C141.15,265.42 140.13,265.88 140.28,267.00 C140.43,268.12 141.71,269.82 142.30,271.20 C142.89,272.58 142.88,273.78 143.80,275.30 C144.72,276.82 146.77,278.65 147.80,280.30 C148.83,281.95 149.55,283.67 150.00,285.20 C150.45,286.73 150.43,288.15 150.50,289.50 C150.57,290.85 149.82,292.08 150.40,293.30 C150.98,294.52 152.62,295.80 154.00,296.80 C155.38,297.80 157.83,298.60 158.70,299.30 C159.57,300.00 159.28,300.37 159.20,301.00 C159.12,301.63 159.07,302.27 158.20,303.10 C157.33,303.93 155.72,304.88 154.00,306.00 C152.28,307.12 149.70,308.60 147.90,309.80 C146.10,311.00 144.47,312.08 143.20,313.20 C141.93,314.32 140.77,315.95 140.28,316.50 L140.12,316.50 C139.63,315.95 138.47,314.32 137.20,313.20 C135.93,312.08 134.30,311.00 132.50,309.80 C130.70,308.60 128.12,307.12 126.40,306.00 C124.68,304.88 123.07,303.93 122.20,303.10 C121.33,302.27 121.28,301.63 121.20,301.00 C121.12,300.37 120.83,300.00 121.70,299.30 C122.57,298.60 125.02,297.80 126.40,296.80 C127.78,295.80 129.42,294.52 130.00,293.30 C130.58,292.08 129.83,290.85 129.90,289.50 C129.97,288.15 129.95,286.73 130.40,285.20 C130.85,283.67 131.57,281.95 132.60,280.30 C133.63,278.65 135.68,276.82 136.60,275.30 C137.52,273.78 137.51,272.58 138.10,271.20 C138.69,269.82 139.97,268.12 140.12,267.00 C140.27,265.88 139.25,265.42 139.00,264.50 C138.75,263.58 138.41,262.33 138.60,261.50 C138.79,260.67 139.87,259.83 140.12,259.50 Z" fill="#d3d3d3" stroke="#1e1e1e" stroke-width="1.15"/>
<line x1="121.32" y1="300.60" x2="159.08" y2="300.60" stroke="#1a1a1a" stroke-width="1.9"/>
<circle cx="139.90" cy="284.60" r="2.45" fill="#141414"/>
<circle cx="121.90" cy="300.50" r="2.45" fill="#141414"/>
<circle cx="127.40" cy="300.00" r="2.45" fill="#141414"/>
<circle cx="151.80" cy="301.30" r="2.45" fill="#141414"/>
<circle cx="139.90" cy="314.80" r="2.45" fill="#141414"/>
<circle cx="140.20" cy="261.30" r="2.3" fill="#fff" stroke="#141414" stroke-width="1.0"/>
<circle cx="140.20" cy="275.50" r="2.3" fill="#fff" stroke="#141414" stroke-width="1.0"/>
<circle cx="146.00" cy="282.70" r="2.3" fill="#fff" stroke="#141414" stroke-width="1.0"/>
<circle cx="134.10" cy="288.60" r="2.3" fill="#fff" stroke="#141414" stroke-width="1.0"/>
<circle cx="146.00" cy="289.20" r="2.3" fill="#fff" stroke="#141414" stroke-width="1.0"/>
<circle cx="139.90" cy="292.20" r="2.3" fill="#fff" stroke="#141414" stroke-width="1.0"/>
<circle cx="134.10" cy="297.10" r="2.3" fill="#fff" stroke="#141414" stroke-width="1.0"/>
<circle cx="139.90" cy="300.40" r="2.3" fill="#fff" stroke="#141414" stroke-width="1.0"/>
<circle cx="146.00" cy="301.70" r="2.3" fill="#fff" stroke="#141414" stroke-width="1.0"/>
<circle cx="157.30" cy="303.80" r="2.3" fill="#fff" stroke="#141414" stroke-width="1.0"/>
<circle cx="134.10" cy="304.40" r="2.3" fill="#fff" stroke="#141414" stroke-width="1.0"/>
<circle cx="139.90" cy="308.90" r="2.3" fill="#fff" stroke="#141414" stroke-width="1.0"/>
<ellipse cx="147.80" cy="347.10" rx="3.6" ry="2.7" fill="#141414"/>
<ellipse cx="147.80" cy="355.80" rx="3.1" ry="2.2" fill="#fff" stroke="#141414" stroke-width="1.1"/>
<text transform="translate(154.77,349.80) scale(1.066,1)" font-size="7.4" font-weight="normal" fill="#222">Men</text>
<text transform="translate(155.36,358.50)" font-size="7.4" font-weight="normal" fill="#222">Women</text>
<line x1="220.50" y1="244.00" x2="220.50" y2="364.00" stroke="#262626" stroke-width="1.0"/>
<line x1="216.90" y1="244.50" x2="220.50" y2="244.50" stroke="#262626" stroke-width="1.0"/>
<text transform="translate(206.36,247.18) scale(0.802,1)" font-size="8.8" font-weight="bold" fill="#1c1c1c" stroke="#1c1c1c" stroke-width="0.22" stroke-linejoin="round">2.0</text>
<line x1="216.90" y1="273.50" x2="220.50" y2="273.50" stroke="#262626" stroke-width="1.0"/>
<text transform="translate(206.30,277.06) scale(0.802,1)" font-size="8.8" font-weight="bold" fill="#1c1c1c" stroke="#1c1c1c" stroke-width="0.22" stroke-linejoin="round">1.8</text>
<line x1="216.90" y1="303.50" x2="220.50" y2="303.50" stroke="#262626" stroke-width="1.0"/>
<text transform="translate(206.33,306.94) scale(0.802,1)" font-size="8.8" font-weight="bold" fill="#1c1c1c" stroke="#1c1c1c" stroke-width="0.22" stroke-linejoin="round">1.6</text>
<line x1="216.90" y1="333.50" x2="220.50" y2="333.50" stroke="#262626" stroke-width="1.0"/>
<text transform="translate(206.12,336.82) scale(0.802,1)" font-size="8.8" font-weight="bold" fill="#1c1c1c" stroke="#1c1c1c" stroke-width="0.22" stroke-linejoin="round">1.4</text>
<line x1="216.90" y1="363.50" x2="220.50" y2="363.50" stroke="#262626" stroke-width="1.0"/>
<text transform="translate(206.37,366.70) scale(0.801,1)" font-size="8.8" font-weight="bold" fill="#1c1c1c" stroke="#1c1c1c" stroke-width="0.22" stroke-linejoin="round">1.2</text>
<line x1="220.00" y1="363.50" x2="347.00" y2="363.50" stroke="#262626" stroke-width="1.0"/>
<line x1="256.50" y1="363.50" x2="256.50" y2="366.90" stroke="#262626" stroke-width="1.0"/>
<line x1="310.50" y1="363.50" x2="310.50" y2="366.90" stroke="#262626" stroke-width="1.0"/>
<text transform="translate(233.60,375.20) scale(0.992,1)" font-size="8.2" font-weight="bold" fill="#1c1c1c" stroke="#1c1c1c" stroke-width="0.15" stroke-linejoin="round">No diabetes</text>
<text transform="translate(295.20,375.20) scale(0.897,1)" font-size="8.2" font-weight="bold" fill="#1c1c1c" stroke="#1c1c1c" stroke-width="0.15" stroke-linejoin="round">Diabetes</text>
<text transform="translate(201.40,369.53) rotate(-90) scale(0.955,1)" fill="#1c1c1c" stroke="#1c1c1c" stroke-width="0.15" stroke-linejoin="round"><tspan x="0.00" y="0.00" font-size="9.8" font-weight="bold">Log</tspan><tspan x="17.96" y="1.40" font-size="4.6" font-weight="bold">10</tspan><tspan x="23.08" y="0.00" font-size="9.8" font-weight="bold"> [Plasma sIL-6R (ng/mL)]</tspan></text>
<path d="M256.50,258.20 L256.50,253.50 L310.50,253.50 L310.50,258.20" fill="none" stroke="#262626" stroke-width="1.0"/>
<text transform="translate(268.31,250.50) scale(0.970,1)" font-size="8.6" font-weight="normal" fill="#222" stroke="#222" stroke-width="0.10" stroke-linejoin="round">p &lt; 0.01</text>
<path d="M249.90,297.60 L262.90,297.60 C263.32,297.77 264.07,297.95 265.40,298.60 C266.73,299.25 269.43,300.43 270.90,301.50 C272.37,302.57 274.18,304.00 274.20,305.00 C274.22,306.00 272.27,306.42 271.00,307.50 C269.73,308.58 267.48,310.08 266.60,311.50 C265.72,312.92 265.48,314.58 265.70,316.00 C265.92,317.42 267.23,318.67 267.90,320.00 C268.57,321.33 269.60,322.83 269.70,324.00 C269.80,325.17 269.45,325.67 268.50,327.00 C267.55,328.33 265.47,330.33 264.00,332.00 C262.53,333.67 260.63,335.50 259.70,337.00 C258.77,338.50 258.94,339.67 258.40,341.00 C257.86,342.33 256.80,344.33 256.48,345.00 L256.32,345.00 C256.00,344.33 254.94,342.33 254.40,341.00 C253.86,339.67 254.03,338.50 253.10,337.00 C252.17,335.50 250.27,333.67 248.80,332.00 C247.33,330.33 245.25,328.33 244.30,327.00 C243.35,325.67 243.00,325.17 243.10,324.00 C243.20,322.83 244.23,321.33 244.90,320.00 C245.57,318.67 246.88,317.42 247.10,316.00 C247.32,314.58 247.08,312.92 246.20,311.50 C245.32,310.08 243.07,308.58 241.80,307.50 C240.53,306.42 238.58,306.00 238.60,305.00 C238.62,304.00 240.43,302.57 241.90,301.50 C243.37,300.43 246.07,299.25 247.40,298.60 C248.73,297.95 249.48,297.77 249.90,297.60 Z" fill="#d3d3d3" stroke="#1e1e1e" stroke-width="1.15"/>
<line x1="238.86" y1="305.50" x2="273.94" y2="305.50" stroke="#2a2a2a" stroke-width="0.9"/>
<line x1="244.30" y1="327.50" x2="268.50" y2="327.50" stroke="#2a2a2a" stroke-width="0.9"/>
<line x1="246.82" y1="316.50" x2="265.97" y2="316.50" stroke="#1a1a1a" stroke-width="1.9"/>
<circle cx="241.00" cy="301.70" r="2.45" fill="#141414"/>
<circle cx="247.00" cy="305.00" r="2.45" fill="#141414"/>
<circle cx="253.30" cy="309.80" r="2.45" fill="#141414"/>
<circle cx="259.50" cy="308.50" r="2.45" fill="#141414"/>
<circle cx="266.00" cy="313.50" r="2.45" fill="#141414"/>
<circle cx="247.00" cy="316.80" r="2.45" fill="#141414"/>
<circle cx="253.30" cy="328.00" r="2.45" fill="#141414"/>
<circle cx="253.30" cy="333.00" r="2.45" fill="#141414"/>
<circle cx="256.50" cy="343.80" r="2.45" fill="#141414"/>
<circle cx="241.00" cy="306.80" r="2.3" fill="#fff" stroke="#141414" stroke-width="1.0"/>
<circle cx="253.30" cy="301.50" r="2.3" fill="#fff" stroke="#141414" stroke-width="1.0"/>
<circle cx="259.80" cy="298.20" r="2.3" fill="#fff" stroke="#141414" stroke-width="1.0"/>
<circle cx="266.00" cy="305.50" r="2.3" fill="#fff" stroke="#141414" stroke-width="1.0"/>
<circle cx="272.50" cy="305.50" r="2.3" fill="#fff" stroke="#141414" stroke-width="1.0"/>
<circle cx="259.80" cy="318.50" r="2.3" fill="#fff" stroke="#141414" stroke-width="1.0"/>
<circle cx="266.00" cy="320.20" r="2.3" fill="#fff" stroke="#141414" stroke-width="1.0"/>
<circle cx="247.00" cy="324.50" r="2.3" fill="#fff" stroke="#141414" stroke-width="1.0"/>
<circle cx="259.80" cy="323.80" r="2.3" fill="#fff" stroke="#141414" stroke-width="1.0"/>
<circle cx="266.00" cy="325.20" r="2.3" fill="#fff" stroke="#141414" stroke-width="1.0"/>
<circle cx="259.80" cy="328.50" r="2.3" fill="#fff" stroke="#141414" stroke-width="1.0"/>
<circle cx="259.80" cy="334.20" r="2.3" fill="#fff" stroke="#141414" stroke-width="1.0"/>
<path d="M305.20,262.90 L316.40,262.90 C316.05,263.53 315.02,265.30 314.30,266.70 C313.58,268.10 312.67,269.75 312.10,271.30 C311.53,272.85 310.65,274.47 310.88,276.00 C311.11,277.53 312.28,279.07 313.50,280.50 C314.72,281.93 316.92,283.25 318.20,284.60 C319.48,285.95 320.45,286.98 321.20,288.60 C321.95,290.22 322.33,292.32 322.70,294.30 C323.07,296.28 322.95,298.45 323.40,300.50 C323.85,302.55 324.68,304.92 325.40,306.60 C326.12,308.28 327.58,309.20 327.70,310.60 C327.82,312.00 327.33,313.62 326.10,315.00 C324.87,316.38 322.13,317.73 320.30,318.90 C318.47,320.07 316.38,320.72 315.10,322.00 C313.82,323.28 313.05,325.07 312.60,326.60 C312.15,328.13 312.69,329.55 312.40,331.20 C312.11,332.85 311.13,335.62 310.88,336.50 L310.72,336.50 C310.47,335.62 309.49,332.85 309.20,331.20 C308.91,329.55 309.45,328.13 309.00,326.60 C308.55,325.07 307.78,323.28 306.50,322.00 C305.22,320.72 303.13,320.07 301.30,318.90 C299.47,317.73 296.73,316.38 295.50,315.00 C294.27,313.62 293.78,312.00 293.90,310.60 C294.02,309.20 295.48,308.28 296.20,306.60 C296.92,304.92 297.75,302.55 298.20,300.50 C298.65,298.45 298.53,296.28 298.90,294.30 C299.27,292.32 299.65,290.22 300.40,288.60 C301.15,286.98 302.12,285.95 303.40,284.60 C304.68,283.25 306.88,281.93 308.10,280.50 C309.32,279.07 310.49,277.53 310.72,276.00 C310.95,274.47 310.07,272.85 309.50,271.30 C308.93,269.75 308.02,268.10 307.30,266.70 C306.58,265.30 305.55,263.53 305.20,262.90 Z" fill="#d3d3d3" stroke="#1e1e1e" stroke-width="1.15"/>
<line x1="299.90" y1="290.50" x2="321.70" y2="290.50" stroke="#2a2a2a" stroke-width="0.9"/>
<line x1="294.95" y1="313.50" x2="326.65" y2="313.50" stroke="#2a2a2a" stroke-width="0.9"/>
<line x1="296.79" y1="304.80" x2="324.81" y2="304.80" stroke="#1a1a1a" stroke-width="1.9"/>
<circle cx="315.90" cy="262.90" r="2.45" fill="#141414"/>
<circle cx="305.30" cy="304.60" r="2.45" fill="#141414"/>
<circle cx="315.90" cy="306.90" r="2.45" fill="#141414"/>
<circle cx="294.90" cy="310.80" r="2.45" fill="#141414"/>
<circle cx="310.70" cy="336.20" r="2.45" fill="#141414"/>
<circle cx="305.30" cy="263.20" r="2.3" fill="#fff" stroke="#141414" stroke-width="1.0"/>
<circle cx="305.30" cy="288.20" r="2.3" fill="#fff" stroke="#141414" stroke-width="1.0"/>
<circle cx="315.90" cy="288.20" r="2.3" fill="#fff" stroke="#141414" stroke-width="1.0"/>
<circle cx="315.90" cy="294.00" r="2.3" fill="#fff" stroke="#141414" stroke-width="1.0"/>
<circle cx="294.90" cy="293.30" r="2.3" fill="#fff" stroke="#141414" stroke-width="1.0"/>
<circle cx="305.30" cy="297.40" r="2.3" fill="#fff" stroke="#141414" stroke-width="1.0"/>
<circle cx="315.90" cy="301.20" r="2.3" fill="#fff" stroke="#141414" stroke-width="1.0"/>
<circle cx="305.30" cy="310.90" r="2.3" fill="#fff" stroke="#141414" stroke-width="1.0"/>
<circle cx="305.30" cy="317.00" r="2.3" fill="#fff" stroke="#141414" stroke-width="1.0"/>
<circle cx="315.90" cy="314.00" r="2.3" fill="#fff" stroke="#141414" stroke-width="1.0"/>
<circle cx="326.30" cy="312.70" r="2.3" fill="#fff" stroke="#141414" stroke-width="1.0"/>
<circle cx="326.30" cy="317.30" r="2.3" fill="#fff" stroke="#141414" stroke-width="1.0"/>
<ellipse cx="318.20" cy="350.30" rx="3.6" ry="2.7" fill="#141414"/>
<ellipse cx="318.20" cy="358.30" rx="3.1" ry="2.2" fill="#fff" stroke="#141414" stroke-width="1.1"/>
<text transform="translate(324.54,353.00) scale(0.946,1)" font-size="7.4" font-weight="normal" fill="#222">Men</text>
<text transform="translate(325.07,361.00) scale(0.886,1)" font-size="7.4" font-weight="normal" fill="#222">Women</text>
<line x1="391.50" y1="247.00" x2="391.50" y2="366.00" stroke="#262626" stroke-width="1.0"/>
<line x1="387.40" y1="247.50" x2="391.50" y2="247.50" stroke="#262626" stroke-width="1.0"/>
<text transform="translate(376.78,250.10) scale(0.828,1)" font-size="8.8" font-weight="bold" fill="#1c1c1c" stroke="#1c1c1c" stroke-width="0.22" stroke-linejoin="round">2.8</text>
<line x1="387.40" y1="286.50" x2="391.50" y2="286.50" stroke="#262626" stroke-width="1.0"/>
<text transform="translate(376.82,289.60) scale(0.828,1)" font-size="8.8" font-weight="bold" fill="#1c1c1c" stroke="#1c1c1c" stroke-width="0.22" stroke-linejoin="round">2.6</text>
<line x1="387.40" y1="326.50" x2="391.50" y2="326.50" stroke="#262626" stroke-width="1.0"/>
<text transform="translate(376.59,329.10) scale(0.828,1)" font-size="8.8" font-weight="bold" fill="#1c1c1c" stroke="#1c1c1c" stroke-width="0.22" stroke-linejoin="round">2.4</text>
<line x1="387.40" y1="365.50" x2="391.50" y2="365.50" stroke="#262626" stroke-width="1.0"/>
<text transform="translate(376.86,368.60) scale(0.828,1)" font-size="8.8" font-weight="bold" fill="#1c1c1c" stroke="#1c1c1c" stroke-width="0.22" stroke-linejoin="round">2.2</text>
<line x1="391.00" y1="365.50" x2="515.50" y2="365.50" stroke="#262626" stroke-width="1.0"/>
<line x1="427.50" y1="365.50" x2="427.50" y2="368.90" stroke="#262626" stroke-width="1.0"/>
<line x1="481.50" y1="365.50" x2="481.50" y2="368.90" stroke="#262626" stroke-width="1.0"/>
<text transform="translate(404.54,377.00)" font-size="8.2" font-weight="bold" fill="#1c1c1c" stroke="#1c1c1c" stroke-width="0.15" stroke-linejoin="round">No diabetes</text>
<text transform="translate(467.00,377.00) scale(0.897,1)" font-size="8.2" font-weight="bold" fill="#1c1c1c" stroke="#1c1c1c" stroke-width="0.15" stroke-linejoin="round">Diabetes</text>
<text transform="translate(371.50,373.53) rotate(-90) scale(0.993,1)" fill="#1c1c1c" stroke="#1c1c1c" stroke-width="0.15" stroke-linejoin="round"><tspan x="0.00" y="0.00" font-size="9.4" font-weight="bold">Log</tspan><tspan x="17.23" y="1.40" font-size="4.6" font-weight="bold">10</tspan><tspan x="22.34" y="0.00" font-size="9.4" font-weight="bold"> [Plasma sgp130 (ng/mL)]</tspan></text>
<path d="M427.62,270.60 L427.78,270.60 C428.07,271.00 429.31,272.18 429.50,273.00 C429.69,273.82 429.19,274.75 428.90,275.50 C428.61,276.25 427.55,276.33 427.78,277.50 C428.01,278.67 429.43,280.73 430.30,282.50 C431.17,284.27 432.28,286.02 433.00,288.10 C433.72,290.18 433.72,293.02 434.60,295.00 C435.48,296.98 437.00,298.54 438.30,300.00 C439.60,301.46 441.35,302.50 442.40,303.75 C443.45,305.00 444.13,306.04 444.60,307.50 C445.07,308.96 445.20,310.83 445.20,312.50 C445.20,314.17 444.82,315.83 444.60,317.50 C444.38,319.17 444.53,321.04 443.90,322.50 C443.27,323.96 442.00,325.21 440.80,326.25 C439.60,327.29 437.38,328.33 436.70,328.75 L418.70,328.75 C418.02,328.33 415.80,327.29 414.60,326.25 C413.40,325.21 412.13,323.96 411.50,322.50 C410.87,321.04 411.02,319.17 410.80,317.50 C410.58,315.83 410.20,314.17 410.20,312.50 C410.20,310.83 410.33,308.96 410.80,307.50 C411.27,306.04 411.95,305.00 413.00,303.75 C414.05,302.50 415.80,301.46 417.10,300.00 C418.40,298.54 419.92,296.98 420.80,295.00 C421.68,293.02 421.68,290.18 422.40,288.10 C423.12,286.02 424.23,284.27 425.10,282.50 C425.97,280.73 427.39,278.67 427.62,277.50 C427.85,276.33 426.79,276.25 426.50,275.50 C426.21,274.75 425.71,273.82 425.90,273.00 C426.09,272.18 427.33,271.00 427.62,270.60 Z" fill="#d3d3d3" stroke="#1e1e1e" stroke-width="1.15"/>
<line x1="410.73" y1="308.50" x2="444.67" y2="308.50" stroke="#2a2a2a" stroke-width="0.9"/>
<line x1="411.42" y1="321.50" x2="443.98" y2="321.50" stroke="#2a2a2a" stroke-width="0.9"/>
<line x1="410.25" y1="312.90" x2="445.15" y2="312.90" stroke="#1a1a1a" stroke-width="1.9"/>
<circle cx="423.75" cy="288.10" r="2.45" fill="#141414"/>
<circle cx="431.90" cy="291.90" r="2.45" fill="#141414"/>
<circle cx="423.75" cy="298.75" r="2.45" fill="#141414"/>
<circle cx="435.60" cy="309.40" r="2.45" fill="#141414"/>
<circle cx="411.90" cy="313.75" r="2.45" fill="#141414"/>
<circle cx="435.60" cy="315.60" r="2.45" fill="#141414"/>
<circle cx="435.60" cy="319.40" r="2.45" fill="#141414"/>
<circle cx="411.90" cy="320.60" r="2.45" fill="#141414"/>
<circle cx="419.75" cy="329.00" r="2.45" fill="#141414"/>
<circle cx="427.75" cy="271.25" r="2.3" fill="#fff" stroke="#141414" stroke-width="1.0"/>
<circle cx="431.25" cy="300.60" r="2.3" fill="#fff" stroke="#141414" stroke-width="1.0"/>
<circle cx="411.90" cy="305.25" r="2.3" fill="#fff" stroke="#141414" stroke-width="1.0"/>
<circle cx="419.75" cy="307.75" r="2.3" fill="#fff" stroke="#141414" stroke-width="1.0"/>
<circle cx="427.75" cy="306.25" r="2.3" fill="#fff" stroke="#141414" stroke-width="1.0"/>
<circle cx="443.75" cy="307.50" r="2.3" fill="#fff" stroke="#141414" stroke-width="1.0"/>
<circle cx="419.75" cy="312.75" r="2.3" fill="#fff" stroke="#141414" stroke-width="1.0"/>
<circle cx="443.10" cy="316.90" r="2.3" fill="#fff" stroke="#141414" stroke-width="1.0"/>
<circle cx="443.10" cy="322.50" r="2.3" fill="#fff" stroke="#141414" stroke-width="1.0"/>
<circle cx="419.75" cy="323.10" r="2.3" fill="#fff" stroke="#141414" stroke-width="1.0"/>
<circle cx="427.75" cy="324.40" r="2.3" fill="#fff" stroke="#141414" stroke-width="1.0"/>
<circle cx="435.60" cy="326.25" r="2.3" fill="#fff" stroke="#141414" stroke-width="1.0"/>
<path d="M476.30,277.30 L487.50,277.30 C487.30,278.17 486.73,280.90 486.30,282.50 C485.87,284.10 485.10,285.44 484.90,286.90 C484.70,288.36 484.57,289.69 485.10,291.25 C485.63,292.81 486.97,294.58 488.10,296.25 C489.23,297.92 490.57,299.69 491.90,301.25 C493.23,302.81 495.17,304.24 496.10,305.60 C497.03,306.96 497.32,308.10 497.50,309.40 C497.68,310.70 497.83,312.00 497.20,313.40 C496.57,314.80 495.08,316.33 493.70,317.80 C492.32,319.27 490.40,320.85 488.90,322.20 C487.40,323.55 485.85,325.00 484.70,325.90 C483.55,326.80 482.43,327.32 481.98,327.60 L481.82,327.60 C481.37,327.32 480.25,326.80 479.10,325.90 C477.95,325.00 476.40,323.55 474.90,322.20 C473.40,320.85 471.48,319.27 470.10,317.80 C468.72,316.33 467.23,314.80 466.60,313.40 C465.97,312.00 466.12,310.70 466.30,309.40 C466.48,308.10 466.77,306.96 467.70,305.60 C468.63,304.24 470.57,302.81 471.90,301.25 C473.23,299.69 474.57,297.92 475.70,296.25 C476.83,294.58 478.17,292.81 478.70,291.25 C479.23,289.69 479.10,288.36 478.90,286.90 C478.70,285.44 477.93,284.10 477.50,282.50 C477.07,280.90 476.50,278.17 476.30,277.30 Z" fill="#d3d3d3" stroke="#1e1e1e" stroke-width="1.15"/>
<line x1="475.43" y1="296.50" x2="488.37" y2="296.50" stroke="#2a2a2a" stroke-width="0.9"/>
<line x1="467.87" y1="315.50" x2="495.93" y2="315.50" stroke="#2a2a2a" stroke-width="0.9"/>
<line x1="466.41" y1="309.10" x2="497.39" y2="309.10" stroke="#1a1a1a" stroke-width="1.9"/>
<circle cx="487.75" cy="277.10" r="2.45" fill="#141414"/>
<circle cx="487.75" cy="301.90" r="2.45" fill="#141414"/>
<circle cx="466.50" cy="305.60" r="2.45" fill="#141414"/>
<circle cx="466.50" cy="311.90" r="2.45" fill="#141414"/>
<circle cx="466.50" cy="314.40" r="2.45" fill="#141414"/>
<circle cx="477.25" cy="319.40" r="2.45" fill="#141414"/>
<circle cx="477.25" cy="277.10" r="2.3" fill="#fff" stroke="#141414" stroke-width="1.0"/>
<circle cx="482.25" cy="284.40" r="2.3" fill="#fff" stroke="#141414" stroke-width="1.0"/>
<circle cx="477.25" cy="298.50" r="2.3" fill="#fff" stroke="#141414" stroke-width="1.0"/>
<circle cx="487.75" cy="295.60" r="2.3" fill="#fff" stroke="#141414" stroke-width="1.0"/>
<circle cx="477.25" cy="305.60" r="2.3" fill="#fff" stroke="#141414" stroke-width="1.0"/>
<circle cx="477.25" cy="313.10" r="2.3" fill="#fff" stroke="#141414" stroke-width="1.0"/>
<circle cx="487.75" cy="310.60" r="2.3" fill="#fff" stroke="#141414" stroke-width="1.0"/>
<circle cx="487.75" cy="315.60" r="2.3" fill="#fff" stroke="#141414" stroke-width="1.0"/>
<circle cx="498.75" cy="309.40" r="2.3" fill="#fff" stroke="#141414" stroke-width="1.0"/>
<circle cx="498.10" cy="315.60" r="2.3" fill="#fff" stroke="#141414" stroke-width="1.0"/>
<circle cx="487.75" cy="321.90" r="2.3" fill="#fff" stroke="#141414" stroke-width="1.0"/>
<circle cx="482.25" cy="327.10" r="2.3" fill="#fff" stroke="#141414" stroke-width="1.0"/>
<ellipse cx="489.10" cy="352.00" rx="3.6" ry="2.7" fill="#141414"/>
<ellipse cx="489.10" cy="360.30" rx="3.1" ry="2.2" fill="#fff" stroke="#141414" stroke-width="1.1"/>
<text transform="translate(495.11,354.70) scale(0.991,1)" font-size="7.4" font-weight="normal" fill="#222">Men</text>
<text transform="translate(495.67,363.00) scale(0.906,1)" font-size="7.4" font-weight="normal" fill="#222">Women</text>
<line x1="40.50" y1="427.00" x2="40.50" y2="542.00" stroke="#262626" stroke-width="1.0"/>
<line x1="36.60" y1="427.50" x2="40.50" y2="427.50" stroke="#262626" stroke-width="1.0"/>
<text transform="translate(23.95,430.60) scale(0.845,1)" font-size="8.8" font-weight="bold" fill="#1c1c1c" stroke="#1c1c1c" stroke-width="0.22" stroke-linejoin="round">2.0</text>
<line x1="36.60" y1="446.50" x2="40.50" y2="446.50" stroke="#262626" stroke-width="1.0"/>
<text transform="translate(23.84,449.52) scale(0.845,1)" font-size="8.8" font-weight="bold" fill="#1c1c1c" stroke="#1c1c1c" stroke-width="0.22" stroke-linejoin="round">1.5</text>
<line x1="36.60" y1="465.50" x2="40.50" y2="465.50" stroke="#262626" stroke-width="1.0"/>
<text transform="translate(23.95,468.45) scale(0.845,1)" font-size="8.8" font-weight="bold" fill="#1c1c1c" stroke="#1c1c1c" stroke-width="0.22" stroke-linejoin="round">1.0</text>
<line x1="36.60" y1="484.50" x2="40.50" y2="484.50" stroke="#262626" stroke-width="1.0"/>
<text transform="translate(23.84,487.38) scale(0.845,1)" font-size="8.8" font-weight="bold" fill="#1c1c1c" stroke="#1c1c1c" stroke-width="0.22" stroke-linejoin="round">0.5</text>
<line x1="36.60" y1="503.50" x2="40.50" y2="503.50" stroke="#262626" stroke-width="1.0"/>
<text transform="translate(23.95,506.30) scale(0.845,1)" font-size="8.8" font-weight="bold" fill="#1c1c1c" stroke="#1c1c1c" stroke-width="0.22" stroke-linejoin="round">0.0</text>
<line x1="36.60" y1="522.50" x2="40.50" y2="522.50" stroke="#262626" stroke-width="1.0"/>
<text transform="translate(21.33,525.23) scale(0.849,1)" font-size="8.8" font-weight="bold" fill="#1c1c1c" stroke="#1c1c1c" stroke-width="0.22" stroke-linejoin="round">-0.5</text>
<line x1="36.60" y1="541.50" x2="40.50" y2="541.50" stroke="#262626" stroke-width="1.0"/>
<text transform="translate(21.44,544.15) scale(0.849,1)" font-size="8.8" font-weight="bold" fill="#1c1c1c" stroke="#1c1c1c" stroke-width="0.22" stroke-linejoin="round">-1.0</text>
<line x1="40.00" y1="541.50" x2="180.00" y2="541.50" stroke="#262626" stroke-width="1.0"/>
<line x1="79.50" y1="541.50" x2="79.50" y2="544.90" stroke="#262626" stroke-width="1.0"/>
<line x1="137.50" y1="541.50" x2="137.50" y2="544.90" stroke="#262626" stroke-width="1.0"/>
<text transform="translate(53.16,553.90) scale(0.969,1)" font-size="8.2" font-weight="bold" fill="#1c1c1c" stroke="#1c1c1c" stroke-width="0.15" stroke-linejoin="round">No metformin</text>
<text transform="translate(118.87,553.90) scale(0.955,1)" font-size="8.2" font-weight="bold" fill="#1c1c1c" stroke="#1c1c1c" stroke-width="0.15" stroke-linejoin="round">Metformin</text>
<text transform="translate(17.40,548.98) rotate(-90) scale(0.990,1)" fill="#1c1c1c" stroke="#1c1c1c" stroke-width="0.15" stroke-linejoin="round"><tspan x="0.00" y="0.00" font-size="10.2" font-weight="bold">Log</tspan><tspan x="18.69" y="1.40" font-size="4.6" font-weight="bold">10</tspan><tspan x="23.81" y="0.00" font-size="10.2" font-weight="bold"> [Plasma IL-6 (pg/mL)]</tspan></text>
<path d="M79.50,436.80 L79.50,432.50 L138.50,432.50 L138.50,436.80" fill="none" stroke="#262626" stroke-width="1.0"/>
<text transform="translate(90.84,428.00) scale(1.097,1)" font-size="8.6" font-weight="normal" fill="#222" stroke="#222" stroke-width="0.10" stroke-linejoin="round">p = 0.03</text>
<path d="M76.40,459.20 L81.60,459.20 C81.77,459.67 82.38,460.87 82.60,462.00 C82.82,463.13 82.80,464.83 82.90,466.00 C83.00,467.17 83.02,468.00 83.20,469.00 C83.38,470.00 83.42,471.07 84.00,472.00 C84.58,472.93 85.20,473.88 86.70,474.60 C88.20,475.32 91.25,475.77 93.00,476.30 C94.75,476.83 96.48,477.27 97.20,477.80 C97.92,478.33 97.58,478.97 97.30,479.50 C97.02,480.03 96.72,480.33 95.50,481.00 C94.28,481.67 91.55,482.67 90.00,483.50 C88.45,484.33 87.27,485.17 86.20,486.00 C85.13,486.83 84.47,487.67 83.60,488.50 C82.73,489.33 81.67,490.25 81.00,491.00 C80.33,491.75 79.92,492.17 79.60,493.00 C79.28,493.83 79.17,494.63 79.08,496.00 C78.99,497.37 78.66,500.07 79.08,501.20 C79.50,502.33 81.06,502.17 81.60,502.80 C82.14,503.43 82.30,504.22 82.30,505.00 C82.30,505.78 81.38,506.75 81.60,507.50 C81.82,508.25 83.13,508.83 83.60,509.50 C84.07,510.17 84.47,510.83 84.40,511.50 C84.33,512.17 83.77,512.83 83.20,513.50 C82.63,514.17 81.69,514.88 81.00,515.50 C80.31,516.12 79.05,516.62 79.08,517.20 C79.11,517.78 80.50,518.37 81.20,519.00 C81.90,519.63 82.90,520.33 83.30,521.00 C83.70,521.67 83.73,522.42 83.60,523.00 C83.47,523.58 83.02,524.12 82.50,524.50 C81.98,524.88 80.83,525.17 80.50,525.30 L77.50,525.30 C77.17,525.17 76.02,524.88 75.50,524.50 C74.98,524.12 74.53,523.58 74.40,523.00 C74.27,522.42 74.30,521.67 74.70,521.00 C75.10,520.33 76.10,519.63 76.80,519.00 C77.50,518.37 78.89,517.78 78.92,517.20 C78.95,516.62 77.69,516.12 77.00,515.50 C76.31,514.88 75.37,514.17 74.80,513.50 C74.23,512.83 73.67,512.17 73.60,511.50 C73.53,510.83 73.93,510.17 74.40,509.50 C74.87,508.83 76.18,508.25 76.40,507.50 C76.62,506.75 75.70,505.78 75.70,505.00 C75.70,504.22 75.86,503.43 76.40,502.80 C76.94,502.17 78.50,502.33 78.92,501.20 C79.34,500.07 79.01,497.37 78.92,496.00 C78.83,494.63 78.72,493.83 78.40,493.00 C78.08,492.17 77.67,491.75 77.00,491.00 C76.33,490.25 75.27,489.33 74.40,488.50 C73.53,487.67 72.87,486.83 71.80,486.00 C70.73,485.17 69.55,484.33 68.00,483.50 C66.45,482.67 63.72,481.67 62.50,481.00 C61.28,480.33 60.98,480.03 60.70,479.50 C60.42,478.97 60.08,478.33 60.80,477.80 C61.52,477.27 63.25,476.83 65.00,476.30 C66.75,475.77 69.80,475.32 71.30,474.60 C72.80,473.88 73.42,472.93 74.00,472.00 C74.58,471.07 74.62,470.00 74.80,469.00 C74.98,468.00 75.00,467.17 75.10,466.00 C75.20,464.83 75.18,463.13 75.40,462.00 C75.62,460.87 76.23,459.67 76.40,459.20 Z" fill="#d3d3d3" stroke="#1e1e1e" stroke-width="1.15"/>
<line x1="61.30" y1="480.00" x2="96.70" y2="480.00" stroke="#1a1a1a" stroke-width="2.6"/>
<circle cx="76.60" cy="462.60" r="2.45" fill="#141414"/>
<circle cx="61.90" cy="482.60" r="2.45" fill="#141414"/>
<circle cx="71.30" cy="479.90" r="2.45" fill="#141414"/>
<circle cx="75.20" cy="479.90" r="2.45" fill="#141414"/>
<circle cx="79.00" cy="480.20" r="2.45" fill="#141414"/>
<circle cx="82.00" cy="481.00" r="2.45" fill="#141414"/>
<circle cx="81.00" cy="484.70" r="2.45" fill="#141414"/>
<circle cx="80.50" cy="488.00" r="2.45" fill="#141414"/>
<circle cx="81.60" cy="511.40" r="2.45" fill="#141414"/>
<circle cx="76.25" cy="522.80" r="2.45" fill="#141414"/>
<circle cx="81.60" cy="522.80" r="2.45" fill="#141414"/>
<circle cx="81.40" cy="458.50" r="2.3" fill="#fff" stroke="#141414" stroke-width="1.0"/>
<circle cx="81.20" cy="466.40" r="2.3" fill="#fff" stroke="#141414" stroke-width="1.0"/>
<circle cx="86.25" cy="470.50" r="2.3" fill="#fff" stroke="#141414" stroke-width="1.0"/>
<circle cx="71.30" cy="475.10" r="2.3" fill="#fff" stroke="#141414" stroke-width="1.0"/>
<circle cx="61.90" cy="477.50" r="2.3" fill="#fff" stroke="#141414" stroke-width="1.0"/>
<circle cx="86.25" cy="477.50" r="2.3" fill="#fff" stroke="#141414" stroke-width="1.0"/>
<circle cx="96.30" cy="478.70" r="2.3" fill="#fff" stroke="#141414" stroke-width="1.0"/>
<circle cx="66.50" cy="481.30" r="2.3" fill="#fff" stroke="#141414" stroke-width="1.0"/>
<circle cx="86.25" cy="482.80" r="2.3" fill="#fff" stroke="#141414" stroke-width="1.0"/>
<circle cx="71.30" cy="487.10" r="2.3" fill="#fff" stroke="#141414" stroke-width="1.0"/>
<circle cx="76.60" cy="488.50" r="2.3" fill="#fff" stroke="#141414" stroke-width="1.0"/>
<circle cx="84.80" cy="487.10" r="2.3" fill="#fff" stroke="#141414" stroke-width="1.0"/>
<circle cx="78.90" cy="505.00" r="2.3" fill="#fff" stroke="#141414" stroke-width="1.0"/>
<circle cx="76.25" cy="511.75" r="2.3" fill="#fff" stroke="#141414" stroke-width="1.0"/>
<path d="M133.80,442.00 L141.80,442.00 C141.62,442.77 140.95,445.25 140.70,446.60 C140.45,447.95 139.92,448.75 140.30,450.10 C140.68,451.45 141.85,453.15 143.00,454.70 C144.15,456.25 145.75,457.95 147.20,459.40 C148.65,460.85 150.72,462.05 151.70,463.40 C152.68,464.75 152.92,466.05 153.10,467.50 C153.28,468.95 152.58,470.55 152.80,472.10 C153.02,473.65 153.82,475.45 154.40,476.80 C154.98,478.15 156.28,479.05 156.30,480.20 C156.32,481.35 155.53,482.53 154.50,483.70 C153.47,484.87 151.72,486.03 150.10,487.20 C148.48,488.37 146.30,489.63 144.80,490.70 C143.30,491.77 142.25,492.83 141.10,493.60 C139.95,494.37 138.42,495.02 137.88,495.30 L137.72,495.30 C137.18,495.02 135.65,494.37 134.50,493.60 C133.35,492.83 132.30,491.77 130.80,490.70 C129.30,489.63 127.12,488.37 125.50,487.20 C123.88,486.03 122.13,484.87 121.10,483.70 C120.07,482.53 119.28,481.35 119.30,480.20 C119.32,479.05 120.62,478.15 121.20,476.80 C121.78,475.45 122.58,473.65 122.80,472.10 C123.02,470.55 122.32,468.95 122.50,467.50 C122.68,466.05 122.92,464.75 123.90,463.40 C124.88,462.05 126.95,460.85 128.40,459.40 C129.85,457.95 131.45,456.25 132.60,454.70 C133.75,453.15 134.92,451.45 135.30,450.10 C135.68,448.75 135.15,447.95 134.90,446.60 C134.65,445.25 133.98,442.77 133.80,442.00 Z" fill="#d3d3d3" stroke="#1e1e1e" stroke-width="1.15"/>
<line x1="123.49" y1="464.50" x2="152.11" y2="464.50" stroke="#2a2a2a" stroke-width="0.9"/>
<line x1="121.10" y1="483.50" x2="154.50" y2="483.50" stroke="#2a2a2a" stroke-width="0.9"/>
<line x1="121.91" y1="474.70" x2="153.69" y2="474.70" stroke="#1a1a1a" stroke-width="1.9"/>
<circle cx="143.60" cy="465.20" r="2.45" fill="#141414"/>
<circle cx="143.60" cy="481.40" r="2.45" fill="#141414"/>
<circle cx="137.80" cy="494.70" r="2.45" fill="#141414"/>
<circle cx="137.80" cy="442.20" r="2.3" fill="#fff" stroke="#141414" stroke-width="1.0"/>
<circle cx="137.80" cy="455.90" r="2.3" fill="#fff" stroke="#141414" stroke-width="1.0"/>
<circle cx="121.00" cy="462.80" r="2.3" fill="#fff" stroke="#141414" stroke-width="1.0"/>
<circle cx="121.00" cy="468.60" r="2.3" fill="#fff" stroke="#141414" stroke-width="1.0"/>
<circle cx="132.00" cy="472.10" r="2.3" fill="#fff" stroke="#141414" stroke-width="1.0"/>
<circle cx="132.00" cy="477.30" r="2.3" fill="#fff" stroke="#141414" stroke-width="1.0"/>
<circle cx="154.70" cy="469.20" r="2.3" fill="#fff" stroke="#141414" stroke-width="1.0"/>
<circle cx="121.00" cy="479.70" r="2.3" fill="#fff" stroke="#141414" stroke-width="1.0"/>
<circle cx="132.00" cy="484.30" r="2.3" fill="#fff" stroke="#141414" stroke-width="1.0"/>
<circle cx="154.70" cy="483.70" r="2.3" fill="#fff" stroke="#141414" stroke-width="1.0"/>
<circle cx="143.60" cy="488.90" r="2.3" fill="#fff" stroke="#141414" stroke-width="1.0"/>
<ellipse cx="144.60" cy="525.20" rx="3.6" ry="2.7" fill="#141414"/>
<ellipse cx="144.60" cy="533.70" rx="3.1" ry="2.2" fill="#fff" stroke="#141414" stroke-width="1.1"/>
<text transform="translate(151.18,527.90) scale(1.051,1)" font-size="7.4" font-weight="normal" fill="#222">Men</text>
<text transform="translate(151.76,536.40) scale(0.991,1)" font-size="7.4" font-weight="normal" fill="#222">Women</text>
<line x1="220.50" y1="424.00" x2="220.50" y2="542.00" stroke="#262626" stroke-width="1.0"/>
<line x1="216.90" y1="424.50" x2="220.50" y2="424.50" stroke="#262626" stroke-width="1.0"/>
<text transform="translate(204.53,427.50) scale(0.906,1)" font-size="8.8" font-weight="bold" fill="#1c1c1c" stroke="#1c1c1c" stroke-width="0.22" stroke-linejoin="round">2.0</text>
<line x1="216.90" y1="453.50" x2="220.50" y2="453.50" stroke="#262626" stroke-width="1.0"/>
<text transform="translate(204.45,456.70) scale(0.905,1)" font-size="8.8" font-weight="bold" fill="#1c1c1c" stroke="#1c1c1c" stroke-width="0.22" stroke-linejoin="round">1.8</text>
<line x1="216.90" y1="482.50" x2="220.50" y2="482.50" stroke="#262626" stroke-width="1.0"/>
<text transform="translate(204.50,485.90) scale(0.905,1)" font-size="8.8" font-weight="bold" fill="#1c1c1c" stroke="#1c1c1c" stroke-width="0.22" stroke-linejoin="round">1.6</text>
<line x1="216.90" y1="512.50" x2="220.50" y2="512.50" stroke="#262626" stroke-width="1.0"/>
<text transform="translate(204.25,515.10) scale(0.906,1)" font-size="8.8" font-weight="bold" fill="#1c1c1c" stroke="#1c1c1c" stroke-width="0.22" stroke-linejoin="round">1.4</text>
<line x1="216.90" y1="541.50" x2="220.50" y2="541.50" stroke="#262626" stroke-width="1.0"/>
<text transform="translate(204.54,544.30) scale(0.905,1)" font-size="8.8" font-weight="bold" fill="#1c1c1c" stroke="#1c1c1c" stroke-width="0.22" stroke-linejoin="round">1.2</text>
<line x1="220.00" y1="541.50" x2="347.00" y2="541.50" stroke="#262626" stroke-width="1.0"/>
<line x1="257.50" y1="541.50" x2="257.50" y2="544.90" stroke="#262626" stroke-width="1.0"/>
<line x1="312.50" y1="541.50" x2="312.50" y2="544.90" stroke="#262626" stroke-width="1.0"/>
<text transform="translate(230.54,554.20)" font-size="8.2" font-weight="bold" fill="#1c1c1c" stroke="#1c1c1c" stroke-width="0.15" stroke-linejoin="round">No metformin</text>
<text transform="translate(292.19,554.20)" font-size="8.2" font-weight="bold" fill="#1c1c1c" stroke="#1c1c1c" stroke-width="0.15" stroke-linejoin="round">Metformin</text>
<text transform="translate(199.00,557.11) rotate(-90) scale(1.028,1)" fill="#1c1c1c" stroke="#1c1c1c" stroke-width="0.15" stroke-linejoin="round"><tspan x="0.00" y="0.00" font-size="10.2" font-weight="bold">Log</tspan><tspan x="18.69" y="1.40" font-size="4.6" font-weight="bold">10</tspan><tspan x="23.81" y="0.00" font-size="10.2" font-weight="bold"> [Plasma sIL-6R (ng/mL)]</tspan></text>
<path d="M256.50,433.60 L256.50,428.50 L312.50,428.50 L312.50,433.60" fill="none" stroke="#262626" stroke-width="1.0"/>
<text transform="translate(267.65,424.20) scale(1.065,1)" font-size="8.6" font-weight="normal" fill="#222" stroke="#222" stroke-width="0.10" stroke-linejoin="round">p &lt; 0.01</text>
<path d="M256.92,442.50 L257.08,442.50 C257.43,442.67 258.85,442.92 259.20,443.50 C259.55,444.08 259.47,445.20 259.20,446.00 C258.93,446.80 257.95,446.80 257.60,448.30 C257.25,449.80 257.17,451.57 257.08,455.00 C256.99,458.43 256.66,466.23 257.08,468.90 C257.50,471.57 258.73,470.32 259.60,471.00 C260.47,471.68 261.32,472.33 262.30,473.00 C263.28,473.67 264.38,474.32 265.50,475.00 C266.62,475.68 267.83,476.35 269.00,477.10 C270.17,477.85 271.63,478.68 272.50,479.50 C273.37,480.32 273.83,481.03 274.20,482.00 C274.57,482.97 274.82,484.30 274.70,485.30 C274.58,486.30 273.92,487.17 273.50,488.00 C273.08,488.83 272.45,489.10 272.20,490.30 C271.95,491.50 271.73,493.57 272.00,495.20 C272.27,496.83 273.50,498.73 273.80,500.10 C274.10,501.47 274.10,502.42 273.80,503.40 C273.50,504.38 272.68,505.17 272.00,506.00 C271.32,506.83 270.57,507.48 269.70,508.40 C268.83,509.32 267.78,510.40 266.80,511.50 C265.82,512.60 264.77,513.92 263.80,515.00 C262.83,516.08 261.83,517.05 261.00,518.00 C260.17,518.95 259.45,519.83 258.80,520.70 C258.15,521.57 257.37,522.78 257.08,523.20 L256.92,523.20 C256.63,522.78 255.85,521.57 255.20,520.70 C254.55,519.83 253.83,518.95 253.00,518.00 C252.17,517.05 251.17,516.08 250.20,515.00 C249.23,513.92 248.18,512.60 247.20,511.50 C246.22,510.40 245.17,509.32 244.30,508.40 C243.43,507.48 242.68,506.83 242.00,506.00 C241.32,505.17 240.50,504.38 240.20,503.40 C239.90,502.42 239.90,501.47 240.20,500.10 C240.50,498.73 241.73,496.83 242.00,495.20 C242.27,493.57 242.05,491.50 241.80,490.30 C241.55,489.10 240.92,488.83 240.50,488.00 C240.08,487.17 239.42,486.30 239.30,485.30 C239.18,484.30 239.43,482.97 239.80,482.00 C240.17,481.03 240.63,480.32 241.50,479.50 C242.37,478.68 243.83,477.85 245.00,477.10 C246.17,476.35 247.38,475.68 248.50,475.00 C249.62,474.32 250.72,473.67 251.70,473.00 C252.68,472.33 253.53,471.68 254.40,471.00 C255.27,470.32 256.50,471.57 256.92,468.90 C257.34,466.23 257.01,458.43 256.92,455.00 C256.83,451.57 256.75,449.80 256.40,448.30 C256.05,446.80 255.07,446.80 254.80,446.00 C254.53,445.20 254.45,444.08 254.80,443.50 C255.15,442.92 256.57,442.67 256.92,442.50 Z" fill="#d3d3d3" stroke="#1e1e1e" stroke-width="1.15"/>
<line x1="239.42" y1="484.50" x2="274.58" y2="484.50" stroke="#2a2a2a" stroke-width="0.9"/>
<line x1="242.48" y1="506.50" x2="271.52" y2="506.50" stroke="#2a2a2a" stroke-width="0.9"/>
<line x1="241.71" y1="496.00" x2="272.29" y2="496.00" stroke="#1a1a1a" stroke-width="1.7"/>
<circle cx="257.00" cy="442.90" r="2.45" fill="#141414"/>
<circle cx="260.30" cy="480.70" r="2.45" fill="#141414"/>
<circle cx="241.50" cy="484.50" r="2.45" fill="#141414"/>
<circle cx="254.20" cy="487.80" r="2.45" fill="#141414"/>
<circle cx="260.30" cy="488.60" r="2.45" fill="#141414"/>
<circle cx="247.60" cy="492.70" r="2.45" fill="#141414"/>
<circle cx="254.20" cy="496.00" r="2.45" fill="#141414"/>
<circle cx="247.60" cy="506.70" r="2.45" fill="#141414"/>
<circle cx="266.50" cy="511.70" r="2.45" fill="#141414"/>
<circle cx="260.30" cy="515.00" r="2.45" fill="#141414"/>
<circle cx="257.00" cy="521.90" r="2.45" fill="#141414"/>
<circle cx="241.50" cy="477.40" r="2.3" fill="#fff" stroke="#141414" stroke-width="1.0"/>
<circle cx="254.20" cy="480.40" r="2.3" fill="#fff" stroke="#141414" stroke-width="1.0"/>
<circle cx="247.60" cy="485.30" r="2.3" fill="#fff" stroke="#141414" stroke-width="1.0"/>
<circle cx="266.50" cy="484.50" r="2.3" fill="#fff" stroke="#141414" stroke-width="1.0"/>
<circle cx="272.80" cy="484.50" r="2.3" fill="#fff" stroke="#141414" stroke-width="1.0"/>
<circle cx="260.30" cy="496.50" r="2.3" fill="#fff" stroke="#141414" stroke-width="1.0"/>
<circle cx="266.50" cy="497.20" r="2.3" fill="#fff" stroke="#141414" stroke-width="1.0"/>
<circle cx="247.60" cy="499.30" r="2.3" fill="#fff" stroke="#141414" stroke-width="1.0"/>
<circle cx="241.50" cy="502.60" r="2.3" fill="#fff" stroke="#141414" stroke-width="1.0"/>
<circle cx="266.50" cy="503.40" r="2.3" fill="#fff" stroke="#141414" stroke-width="1.0"/>
<circle cx="272.80" cy="502.60" r="2.3" fill="#fff" stroke="#141414" stroke-width="1.0"/>
<circle cx="254.20" cy="507.00" r="2.3" fill="#fff" stroke="#141414" stroke-width="1.0"/>
<circle cx="254.20" cy="512.50" r="2.3" fill="#fff" stroke="#141414" stroke-width="1.0"/>
<path d="M311.72,441.20 L311.88,441.20 C312.30,441.42 313.91,441.78 314.40,442.50 C314.89,443.22 314.97,444.50 314.80,445.50 C314.63,446.50 313.89,447.50 313.40,448.50 C312.91,449.50 312.13,450.25 311.88,451.50 C311.63,452.75 311.56,454.92 311.88,456.00 C312.20,457.08 313.15,457.25 313.80,458.00 C314.45,458.75 314.83,459.42 315.80,460.50 C316.77,461.58 318.40,463.25 319.60,464.50 C320.80,465.75 322.23,467.05 323.00,468.00 C323.77,468.95 323.90,468.87 324.20,470.20 C324.50,471.53 324.68,474.08 324.80,476.00 C324.92,477.92 324.85,480.00 324.90,481.70 C324.95,483.40 325.07,484.82 325.10,486.20 C325.13,487.58 325.12,488.47 325.10,490.00 C325.08,491.53 325.02,494.50 325.00,495.40 L298.60,495.40 C298.58,494.50 298.52,491.53 298.50,490.00 C298.48,488.47 298.47,487.58 298.50,486.20 C298.53,484.82 298.65,483.40 298.70,481.70 C298.75,480.00 298.68,477.92 298.80,476.00 C298.92,474.08 299.10,471.53 299.40,470.20 C299.70,468.87 299.83,468.95 300.60,468.00 C301.37,467.05 302.80,465.75 304.00,464.50 C305.20,463.25 306.83,461.58 307.80,460.50 C308.77,459.42 309.15,458.75 309.80,458.00 C310.45,457.25 311.40,457.08 311.72,456.00 C312.04,454.92 311.97,452.75 311.72,451.50 C311.47,450.25 310.69,449.50 310.20,448.50 C309.71,447.50 308.97,446.50 308.80,445.50 C308.63,444.50 308.71,443.22 309.20,442.50 C309.69,441.78 311.30,441.42 311.72,441.20 Z" fill="#d3d3d3" stroke="#1e1e1e" stroke-width="1.15"/>
<line x1="299.28" y1="471.50" x2="324.32" y2="471.50" stroke="#2a2a2a" stroke-width="0.9"/>
<line x1="298.50" y1="489.50" x2="325.10" y2="489.50" stroke="#2a2a2a" stroke-width="0.9"/>
<line x1="298.68" y1="482.20" x2="324.92" y2="482.20" stroke="#1a1a1a" stroke-width="1.8"/>
<circle cx="296.00" cy="482.80" r="2.45" fill="#141414"/>
<circle cx="306.30" cy="489.10" r="2.45" fill="#141414"/>
<circle cx="327.40" cy="486.00" r="2.45" fill="#141414"/>
<circle cx="311.70" cy="444.00" r="2.3" fill="#fff" stroke="#141414" stroke-width="1.0"/>
<circle cx="306.30" cy="467.40" r="2.3" fill="#fff" stroke="#141414" stroke-width="1.0"/>
<circle cx="317.10" cy="467.40" r="2.3" fill="#fff" stroke="#141414" stroke-width="1.0"/>
<circle cx="317.10" cy="473.70" r="2.3" fill="#fff" stroke="#141414" stroke-width="1.0"/>
<circle cx="306.30" cy="476.50" r="2.3" fill="#fff" stroke="#141414" stroke-width="1.0"/>
<circle cx="327.40" cy="472.50" r="2.3" fill="#fff" stroke="#141414" stroke-width="1.0"/>
<circle cx="327.40" cy="480.00" r="2.3" fill="#fff" stroke="#141414" stroke-width="1.0"/>
<circle cx="296.00" cy="489.70" r="2.3" fill="#fff" stroke="#141414" stroke-width="1.0"/>
<circle cx="296.00" cy="495.40" r="2.3" fill="#fff" stroke="#141414" stroke-width="1.0"/>
<circle cx="317.10" cy="493.10" r="2.3" fill="#fff" stroke="#141414" stroke-width="1.0"/>
<circle cx="327.40" cy="491.40" r="2.3" fill="#fff" stroke="#141414" stroke-width="1.0"/>
<ellipse cx="317.40" cy="527.00" rx="3.6" ry="2.7" fill="#141414"/>
<ellipse cx="317.40" cy="536.10" rx="3.1" ry="2.2" fill="#fff" stroke="#141414" stroke-width="1.1"/>
<text transform="translate(324.70,529.70) scale(1.006,1)" font-size="7.4" font-weight="normal" fill="#222">Men</text>
<text transform="translate(325.27,538.80) scale(0.943,1)" font-size="7.4" font-weight="normal" fill="#222">Women</text>
<line x1="391.50" y1="422.00" x2="391.50" y2="542.00" stroke="#262626" stroke-width="1.0"/>
<line x1="387.70" y1="422.50" x2="391.50" y2="422.50" stroke="#262626" stroke-width="1.0"/>
<text transform="translate(374.84,425.30) scale(0.923,1)" font-size="8.8" font-weight="bold" fill="#1c1c1c" stroke="#1c1c1c" stroke-width="0.22" stroke-linejoin="round">2.8</text>
<line x1="387.70" y1="462.50" x2="391.50" y2="462.50" stroke="#262626" stroke-width="1.0"/>
<text transform="translate(374.88,465.10) scale(0.923,1)" font-size="8.8" font-weight="bold" fill="#1c1c1c" stroke="#1c1c1c" stroke-width="0.22" stroke-linejoin="round">2.6</text>
<line x1="387.70" y1="501.50" x2="391.50" y2="501.50" stroke="#262626" stroke-width="1.0"/>
<text transform="translate(374.64,504.90) scale(0.923,1)" font-size="8.8" font-weight="bold" fill="#1c1c1c" stroke="#1c1c1c" stroke-width="0.22" stroke-linejoin="round">2.4</text>
<line x1="387.70" y1="541.50" x2="391.50" y2="541.50" stroke="#262626" stroke-width="1.0"/>
<text transform="translate(374.93,544.70) scale(0.923,1)" font-size="8.8" font-weight="bold" fill="#1c1c1c" stroke="#1c1c1c" stroke-width="0.22" stroke-linejoin="round">2.2</text>
<line x1="391.00" y1="542.50" x2="517.50" y2="542.50" stroke="#262626" stroke-width="1.0"/>
<line x1="427.50" y1="542.50" x2="427.50" y2="545.90" stroke="#262626" stroke-width="1.0"/>
<line x1="481.50" y1="542.50" x2="481.50" y2="545.90" stroke="#262626" stroke-width="1.0"/>
<text transform="translate(400.33,554.60) scale(1.022,1)" font-size="8.2" font-weight="bold" fill="#1c1c1c" stroke="#1c1c1c" stroke-width="0.15" stroke-linejoin="round">No metformin</text>
<text transform="translate(461.33,554.60) scale(1.017,1)" font-size="8.2" font-weight="bold" fill="#1c1c1c" stroke="#1c1c1c" stroke-width="0.15" stroke-linejoin="round">Metformin</text>
<text transform="translate(368.10,559.81) rotate(-90) scale(1.059,1)" fill="#1c1c1c" stroke="#1c1c1c" stroke-width="0.15" stroke-linejoin="round"><tspan x="0.00" y="0.00" font-size="10.0" font-weight="bold">Log</tspan><tspan x="18.33" y="1.40" font-size="6.2" font-weight="bold">10</tspan><tspan x="25.22" y="0.00" font-size="10.0" font-weight="bold"> [Plasma sgp130 (ng/mL)]</tspan></text>
<path d="M427.22,445.00 L427.38,445.00 C427.77,445.25 429.11,445.46 429.70,446.50 C430.29,447.54 430.93,449.83 430.90,451.25 C430.87,452.67 429.52,453.33 429.50,455.00 C429.48,456.67 430.37,459.17 430.80,461.25 C431.23,463.33 431.65,465.62 432.10,467.50 C432.55,469.38 432.63,470.83 433.50,472.50 C434.37,474.17 435.87,475.83 437.30,477.50 C438.73,479.17 441.05,480.83 442.10,482.50 C443.15,484.17 443.35,485.83 443.60,487.50 C443.85,489.17 443.65,490.83 443.60,492.50 C443.55,494.17 443.60,496.04 443.30,497.50 C443.00,498.96 442.97,500.21 441.80,501.25 C440.63,502.29 437.22,503.33 436.30,503.75 L418.30,503.75 C417.38,503.33 413.97,502.29 412.80,501.25 C411.63,500.21 411.60,498.96 411.30,497.50 C411.00,496.04 411.05,494.17 411.00,492.50 C410.95,490.83 410.75,489.17 411.00,487.50 C411.25,485.83 411.45,484.17 412.50,482.50 C413.55,480.83 415.87,479.17 417.30,477.50 C418.73,475.83 420.23,474.17 421.10,472.50 C421.97,470.83 422.05,469.38 422.50,467.50 C422.95,465.62 423.37,463.33 423.80,461.25 C424.23,459.17 425.12,456.67 425.10,455.00 C425.08,453.33 423.73,452.67 423.70,451.25 C423.67,449.83 424.31,447.54 424.90,446.50 C425.49,445.46 426.83,445.25 427.22,445.00 Z" fill="#d3d3d3" stroke="#1e1e1e" stroke-width="1.15"/>
<line x1="411.93" y1="484.50" x2="442.67" y2="484.50" stroke="#2a2a2a" stroke-width="0.9"/>
<line x1="411.21" y1="496.50" x2="443.39" y2="496.50" stroke="#2a2a2a" stroke-width="0.9"/>
<line x1="411.00" y1="489.40" x2="443.60" y2="489.40" stroke="#1a1a1a" stroke-width="1.9"/>
<circle cx="427.25" cy="452.50" r="2.45" fill="#141414"/>
<circle cx="423.50" cy="464.10" r="2.45" fill="#141414"/>
<circle cx="431.25" cy="467.75" r="2.45" fill="#141414"/>
<circle cx="442.90" cy="475.00" r="2.45" fill="#141414"/>
<circle cx="419.40" cy="485.00" r="2.45" fill="#141414"/>
<circle cx="419.40" cy="488.75" r="2.45" fill="#141414"/>
<circle cx="419.40" cy="491.90" r="2.45" fill="#141414"/>
<circle cx="411.90" cy="489.75" r="2.45" fill="#141414"/>
<circle cx="411.90" cy="496.90" r="2.45" fill="#141414"/>
<circle cx="427.25" cy="495.00" r="2.45" fill="#141414"/>
<circle cx="435.00" cy="496.90" r="2.45" fill="#141414"/>
<circle cx="419.40" cy="505.00" r="2.45" fill="#141414"/>
<circle cx="427.25" cy="446.50" r="2.3" fill="#fff" stroke="#141414" stroke-width="1.0"/>
<circle cx="435.00" cy="476.25" r="2.3" fill="#fff" stroke="#141414" stroke-width="1.0"/>
<circle cx="411.90" cy="481.00" r="2.3" fill="#fff" stroke="#141414" stroke-width="1.0"/>
<circle cx="427.25" cy="482.25" r="2.3" fill="#fff" stroke="#141414" stroke-width="1.0"/>
<circle cx="435.00" cy="483.75" r="2.3" fill="#fff" stroke="#141414" stroke-width="1.0"/>
<circle cx="443.10" cy="483.75" r="2.3" fill="#fff" stroke="#141414" stroke-width="1.0"/>
<circle cx="427.25" cy="489.00" r="2.3" fill="#fff" stroke="#141414" stroke-width="1.0"/>
<circle cx="435.00" cy="489.00" r="2.3" fill="#fff" stroke="#141414" stroke-width="1.0"/>
<circle cx="443.10" cy="493.10" r="2.3" fill="#fff" stroke="#141414" stroke-width="1.0"/>
<circle cx="419.40" cy="499.40" r="2.3" fill="#fff" stroke="#141414" stroke-width="1.0"/>
<circle cx="427.25" cy="501.00" r="2.3" fill="#fff" stroke="#141414" stroke-width="1.0"/>
<circle cx="435.00" cy="502.50" r="2.3" fill="#fff" stroke="#141414" stroke-width="1.0"/>
<circle cx="443.10" cy="498.75" r="2.3" fill="#fff" stroke="#141414" stroke-width="1.0"/>
<path d="M478.10,450.50 L485.10,450.50 C485.33,450.73 486.20,450.94 486.50,451.90 C486.80,452.86 487.13,454.58 486.90,456.25 C486.67,457.92 485.25,460.23 485.10,461.90 C484.95,463.57 485.23,464.69 486.00,466.25 C486.77,467.81 488.45,469.58 489.70,471.25 C490.95,472.92 492.20,474.58 493.50,476.25 C494.80,477.92 496.58,479.79 497.50,481.25 C498.42,482.71 498.78,483.54 499.00,485.00 C499.22,486.46 499.37,488.54 498.80,490.00 C498.23,491.46 497.15,492.50 495.60,493.75 C494.05,495.00 491.25,496.25 489.50,497.50 C487.75,498.75 486.40,500.33 485.10,501.25 C483.80,502.17 482.25,502.71 481.68,503.00 L481.52,503.00 C480.95,502.71 479.40,502.17 478.10,501.25 C476.80,500.33 475.45,498.75 473.70,497.50 C471.95,496.25 469.15,495.00 467.60,493.75 C466.05,492.50 464.97,491.46 464.40,490.00 C463.83,488.54 463.98,486.46 464.20,485.00 C464.42,483.54 464.78,482.71 465.70,481.25 C466.62,479.79 468.40,477.92 469.70,476.25 C471.00,474.58 472.25,472.92 473.50,471.25 C474.75,469.58 476.43,467.81 477.20,466.25 C477.97,464.69 478.25,463.57 478.10,461.90 C477.95,460.23 476.53,457.92 476.30,456.25 C476.07,454.58 476.40,452.86 476.70,451.90 C477.00,450.94 477.87,450.73 478.10,450.50 Z" fill="#d3d3d3" stroke="#1e1e1e" stroke-width="1.15"/>
<line x1="472.09" y1="473.50" x2="491.11" y2="473.50" stroke="#2a2a2a" stroke-width="0.9"/>
<line x1="465.47" y1="491.50" x2="497.73" y2="491.50" stroke="#2a2a2a" stroke-width="0.9"/>
<line x1="464.60" y1="484.00" x2="498.60" y2="484.00" stroke="#1a1a1a" stroke-width="1.9"/>
<circle cx="476.50" cy="477.50" r="2.45" fill="#141414"/>
<circle cx="486.90" cy="481.90" r="2.45" fill="#141414"/>
<circle cx="497.50" cy="488.75" r="2.45" fill="#141414"/>
<circle cx="481.50" cy="452.50" r="2.3" fill="#fff" stroke="#141414" stroke-width="1.0"/>
<circle cx="481.50" cy="459.40" r="2.3" fill="#fff" stroke="#141414" stroke-width="1.0"/>
<circle cx="476.50" cy="471.90" r="2.3" fill="#fff" stroke="#141414" stroke-width="1.0"/>
<circle cx="486.90" cy="473.75" r="2.3" fill="#fff" stroke="#141414" stroke-width="1.0"/>
<circle cx="497.50" cy="481.25" r="2.3" fill="#fff" stroke="#141414" stroke-width="1.0"/>
<circle cx="466.25" cy="485.00" r="2.3" fill="#fff" stroke="#141414" stroke-width="1.0"/>
<circle cx="476.25" cy="486.90" r="2.3" fill="#fff" stroke="#141414" stroke-width="1.0"/>
<circle cx="466.25" cy="491.25" r="2.3" fill="#fff" stroke="#141414" stroke-width="1.0"/>
<circle cx="486.90" cy="491.25" r="2.3" fill="#fff" stroke="#141414" stroke-width="1.0"/>
<circle cx="481.50" cy="497.50" r="2.3" fill="#fff" stroke="#141414" stroke-width="1.0"/>
<circle cx="481.50" cy="503.10" r="2.3" fill="#fff" stroke="#141414" stroke-width="1.0"/>
<ellipse cx="486.00" cy="526.00" rx="3.6" ry="2.7" fill="#141414"/>
<ellipse cx="486.00" cy="534.50" rx="3.1" ry="2.2" fill="#fff" stroke="#141414" stroke-width="1.1"/>
<text transform="translate(493.21,528.70)" font-size="7.4" font-weight="normal" fill="#222">Men</text>
<text transform="translate(493.77,537.20) scale(0.922,1)" font-size="7.4" font-weight="normal" fill="#222">Women</text>
</g></svg>
</body></html>
